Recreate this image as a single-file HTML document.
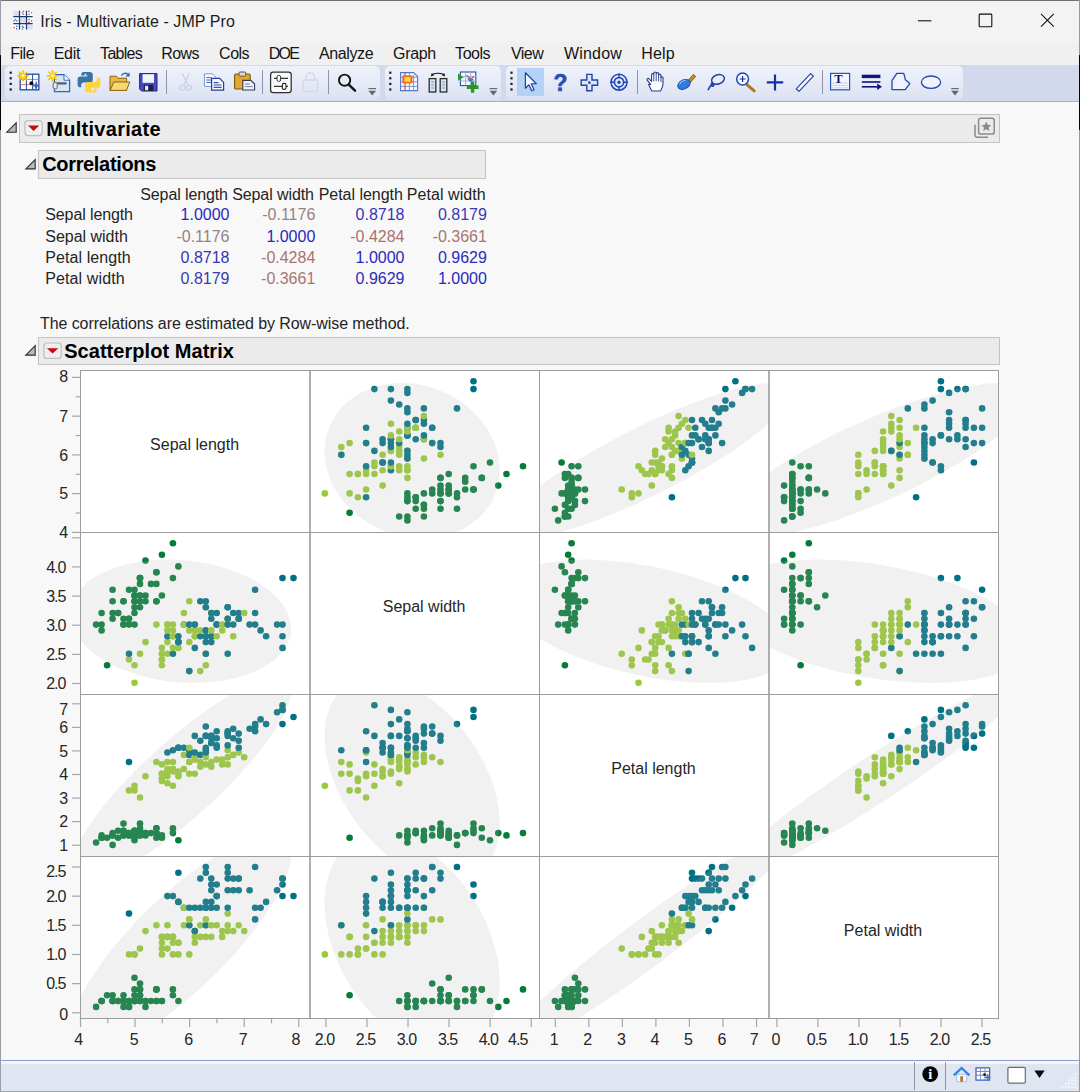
<!DOCTYPE html>
<html lang="en"><head><meta charset="utf-8"><title>Iris - Multivariate - JMP Pro</title>
<style>
html,body{margin:0;padding:0;overflow:hidden}
body{width:1080px;height:1092px;overflow:hidden;position:relative;background:#f8f8f8;font-family:"Liberation Sans", sans-serif;}
.t{position:absolute;white-space:nowrap}
.a{position:absolute}
.p0{fill:#077b3a}.p1{fill:#99cb36}.p2{fill:#007184}
.hdr{position:absolute;background:#ebebeb;border:1px solid #c3c3c3;box-sizing:border-box}

.tb{position:absolute;top:66px;height:34px;background:linear-gradient(#eff2fb,#e7ebf7 45%,#dce1f2);border-radius:5px}
.sep{position:absolute;top:70px;height:24px;width:1px;background:#8d93a8}

</style></head><body>
<div class="a" style="left:0;top:0;width:1080px;height:42px;background:#f3f3f3"></div>
<div class="a" style="left:0;top:42px;width:1080px;height:23px;background:#f0f0f0"></div>
<div class="a" style="left:0;top:65px;width:1080px;height:36px;background:#d3d9ed"></div>
<div class="a" style="left:0;top:100.6px;width:1080px;height:1.6px;background:#a3add4"></div>
<div class="tb" style="left:5px;width:375px"></div>
<div class="tb" style="left:385px;width:116px"></div>
<div class="tb" style="left:506px;width:457px"></div>
<div class="a" style="left:517px;top:68px;width:27px;height:28px;background:#b3d2f6"></div>
<div class="sep" style="left:166.3px"></div>
<div class="sep" style="left:262.3px"></div>
<div class="sep" style="left:328.4px"></div>
<div class="sep" style="left:637.3px"></div>
<div class="sep" style="left:822.4px"></div>
<div class="hdr" style="left:19px;top:114px;width:981px;height:29px"></div>
<div class="hdr" style="left:38px;top:150px;width:448px;height:29px"></div>
<div class="hdr" style="left:38px;top:337px;width:962px;height:28px"></div>
<div class="a" style="left:0;top:1059.6px;width:1080px;height:1.8px;background:#8f9bc8"></div>
<div class="a" style="left:0;top:1061.4px;width:1080px;height:2.6px;background:#f4f6fb"></div>
<div class="a" style="left:0;top:1064px;width:1080px;height:27px;background:#dfe5f1"></div>
<div class="a" style="left:0;top:1090.6px;width:1080px;height:1.4px;background:#a9a9a9"></div>
<div class="a" style="left:914.3px;top:1062px;width:1px;height:27.500px;background:#8e93a3"></div>
<div class="a" style="left:945.4px;top:1062px;width:1px;height:27.500px;background:#8e93a3"></div>
<div class="a" style="left:0;top:0;width:1080px;height:1.2px;background:#707070"></div>
<div class="a" style="left:0;top:0;width:1.2px;height:1092px;background:#9c9ca4"></div>
<div class="a" style="left:0;top:55px;width:1.2px;height:75px;background:#050505"></div>
<div class="a" style="left:1078.6px;top:0;width:1.4px;height:1092px;background:#98989f"></div>
<div class="a" style="left:1078.6px;top:55px;width:1.4px;height:75px;background:#050505"></div>
<div class="t" style="top:13.96px;font-size:16px;line-height:16px;color:#1d1d1d;left:40.24px;letter-spacing:0.071px;">Iris - Multivariate - JMP Pro</div>
<div class="t" style="top:46.16px;font-size:16px;line-height:16px;color:#141414;left:10.24px;letter-spacing:-0.475px;">File</div>
<div class="t" style="top:46.16px;font-size:16px;line-height:16px;color:#141414;left:53.70px;letter-spacing:-0.290px;">Edit</div>
<div class="t" style="top:46.16px;font-size:16px;line-height:16px;color:#141414;left:100.08px;letter-spacing:-0.702px;">Tables</div>
<div class="t" style="top:46.16px;font-size:16px;line-height:16px;color:#141414;left:161.28px;letter-spacing:-0.554px;">Rows</div>
<div class="t" style="top:46.16px;font-size:16px;line-height:16px;color:#141414;left:219.08px;letter-spacing:-0.494px;">Cols</div>
<div class="t" style="top:46.16px;font-size:16px;line-height:16px;color:#141414;left:268.70px;letter-spacing:-1.684px;">DOE</div>
<div class="t" style="top:46.16px;font-size:16px;line-height:16px;color:#141414;left:319.04px;letter-spacing:-0.400px;">Analyze</div>
<div class="t" style="top:46.16px;font-size:16px;line-height:16px;color:#141414;left:393.12px;letter-spacing:-0.350px;">Graph</div>
<div class="t" style="top:46.16px;font-size:16px;line-height:16px;color:#141414;left:455.12px;letter-spacing:-0.472px;">Tools</div>
<div class="t" style="top:46.16px;font-size:16px;line-height:16px;color:#141414;left:510.88px;letter-spacing:-0.528px;">View</div>
<div class="t" style="top:46.16px;font-size:16px;line-height:16px;color:#141414;left:563.92px;letter-spacing:0.196px;">Window</div>
<div class="t" style="top:46.16px;font-size:16px;line-height:16px;color:#141414;left:641.28px;letter-spacing:0.173px;">Help</div>
<div class="t" style="top:118.77px;font-size:20px;line-height:20px;color:#000;font-weight:700;left:46.24px;letter-spacing:0.287px;">Multivariate</div>
<div class="t" style="top:154.37px;font-size:20px;line-height:20px;color:#000;font-weight:700;left:42.20px;letter-spacing:-0.334px;">Correlations</div>
<div class="t" style="top:340.97px;font-size:20px;line-height:20px;color:#000;font-weight:700;left:64.20px;letter-spacing:0.046px;">Scatterplot Matrix</div>
<div class="t" style="top:186.56px;font-size:16px;line-height:16px;color:#242424;left:140.24px;letter-spacing:-0.107px;">Sepal length</div>
<div class="t" style="top:186.56px;font-size:16px;line-height:16px;color:#242424;left:232.20px;letter-spacing:-0.098px;">Sepal width</div>
<div class="t" style="top:186.56px;font-size:16px;line-height:16px;color:#242424;left:318.70px;letter-spacing:-0.031px;">Petal length</div>
<div class="t" style="top:186.56px;font-size:16px;line-height:16px;color:#242424;left:406.70px;letter-spacing:0.079px;">Petal width</div>
<div class="t" style="top:207.36px;font-size:16px;line-height:16px;color:#242424;left:45.24px;letter-spacing:-0.107px;">Sepal length</div>
<div class="t" style="top:228.61px;font-size:16px;line-height:16px;color:#242424;left:45.24px;letter-spacing:-0.014px;">Sepal width</div>
<div class="t" style="top:249.86px;font-size:16px;line-height:16px;color:#242424;left:45.24px;letter-spacing:0.080px;">Petal length</div>
<div class="t" style="top:271.11px;font-size:16px;line-height:16px;color:#242424;left:45.24px;letter-spacing:0.118px;">Petal width</div>
<div class="t" style="top:207.36px;font-size:16px;line-height:16px;color:#2828be;right:850.50px;">1.0000</div>
<div class="t" style="top:207.36px;font-size:16px;line-height:16px;color:#938482;right:764.70px;">-0.1176</div>
<div class="t" style="top:207.36px;font-size:16px;line-height:16px;color:#3535b7;right:675.50px;">0.8718</div>
<div class="t" style="top:207.36px;font-size:16px;line-height:16px;color:#3a3ab5;right:593.10px;">0.8179</div>
<div class="t" style="top:228.61px;font-size:16px;line-height:16px;color:#938482;right:850.50px;">-0.1176</div>
<div class="t" style="top:228.61px;font-size:16px;line-height:16px;color:#2828be;right:764.70px;">1.0000</div>
<div class="t" style="top:228.61px;font-size:16px;line-height:16px;color:#ab736e;right:675.50px;">-0.4284</div>
<div class="t" style="top:228.61px;font-size:16px;line-height:16px;color:#a67672;right:593.10px;">-0.3661</div>
<div class="t" style="top:249.86px;font-size:16px;line-height:16px;color:#3535b7;right:850.50px;">0.8718</div>
<div class="t" style="top:249.86px;font-size:16px;line-height:16px;color:#ab736e;right:764.70px;">-0.4284</div>
<div class="t" style="top:249.86px;font-size:16px;line-height:16px;color:#2828be;right:675.50px;">1.0000</div>
<div class="t" style="top:249.86px;font-size:16px;line-height:16px;color:#2c2cbc;right:593.10px;">0.9629</div>
<div class="t" style="top:271.11px;font-size:16px;line-height:16px;color:#3a3ab5;right:850.50px;">0.8179</div>
<div class="t" style="top:271.11px;font-size:16px;line-height:16px;color:#a67672;right:764.70px;">-0.3661</div>
<div class="t" style="top:271.11px;font-size:16px;line-height:16px;color:#2c2cbc;right:675.50px;">0.9629</div>
<div class="t" style="top:271.11px;font-size:16px;line-height:16px;color:#2828be;right:593.10px;">1.0000</div>
<div class="t" style="top:316.16px;font-size:16px;line-height:16px;color:#242424;left:39.96px;letter-spacing:-0.076px;">The correlations are estimated by Row-wise method.</div>
<svg width="1080" height="1092" viewBox="0 0 1080 1092" style="position:absolute;left:0;top:0" font-family='"Liberation Sans", sans-serif' font-size="16">
<rect x="80.5" y="370.5" width="918.0" height="648.0" fill="#fff"/>
<defs><clipPath id="c00"><rect x="80.5" y="370.5" width="229.5" height="162.0"/></clipPath><clipPath id="c01"><rect x="310.0" y="370.5" width="229.5" height="162.0"/></clipPath><clipPath id="c02"><rect x="539.5" y="370.5" width="229.5" height="162.0"/></clipPath><clipPath id="c03"><rect x="769.0" y="370.5" width="229.5" height="162.0"/></clipPath><clipPath id="c10"><rect x="80.5" y="532.5" width="229.5" height="162.0"/></clipPath><clipPath id="c11"><rect x="310.0" y="532.5" width="229.5" height="162.0"/></clipPath><clipPath id="c12"><rect x="539.5" y="532.5" width="229.5" height="162.0"/></clipPath><clipPath id="c13"><rect x="769.0" y="532.5" width="229.5" height="162.0"/></clipPath><clipPath id="c20"><rect x="80.5" y="694.5" width="229.5" height="162.0"/></clipPath><clipPath id="c21"><rect x="310.0" y="694.5" width="229.5" height="162.0"/></clipPath><clipPath id="c22"><rect x="539.5" y="694.5" width="229.5" height="162.0"/></clipPath><clipPath id="c23"><rect x="769.0" y="694.5" width="229.5" height="162.0"/></clipPath><clipPath id="c30"><rect x="80.5" y="856.5" width="229.5" height="162.0"/></clipPath><clipPath id="c31"><rect x="310.0" y="856.5" width="229.5" height="162.0"/></clipPath><clipPath id="c32"><rect x="539.5" y="856.5" width="229.5" height="162.0"/></clipPath><clipPath id="c33"><rect x="769.0" y="856.5" width="229.5" height="162.0"/></clipPath></defs>
<g clip-path="url(#c01)"><circle class="p1" cx="324.8" cy="493.4" r="3.3"/><circle class="p1" cx="341.3" cy="454.7" r="3.3"/><circle class="p2" cx="341.3" cy="454.7" r="3.3"/><circle class="p1" cx="341.3" cy="447.0" r="3.3"/><circle class="p0" cx="349.6" cy="512.7" r="3.3"/><circle class="p1" cx="349.6" cy="493.4" r="3.3"/><circle class="p1" cx="349.6" cy="474.0" r="3.3"/><circle class="p1" cx="349.6" cy="443.1" r="3.3"/><circle class="p1" cx="357.9" cy="497.2" r="3.3"/><circle class="p1" cx="357.9" cy="474.0" r="3.3"/><circle class="p1" cx="357.9" cy="474.0" r="3.3"/><circle class="p2" cx="366.1" cy="497.2" r="3.3"/><circle class="p1" cx="366.1" cy="489.5" r="3.3"/><circle class="p1" cx="366.1" cy="474.0" r="3.3"/><circle class="p1" cx="366.1" cy="470.2" r="3.3"/><circle class="p2" cx="366.1" cy="466.3" r="3.3"/><circle class="p1" cx="366.1" cy="443.1" r="3.3"/><circle class="p2" cx="366.1" cy="443.1" r="3.3"/><circle class="p2" cx="366.1" cy="427.7" r="3.3"/><circle class="p1" cx="374.4" cy="474.0" r="3.3"/><circle class="p1" cx="374.4" cy="466.3" r="3.3"/><circle class="p1" cx="374.4" cy="462.5" r="3.3"/><circle class="p2" cx="374.4" cy="450.9" r="3.3"/><circle class="p2" cx="374.4" cy="389.1" r="3.3"/><circle class="p1" cx="382.6" cy="485.6" r="3.3"/><circle class="p1" cx="382.6" cy="470.2" r="3.3"/><circle class="p1" cx="382.6" cy="462.5" r="3.3"/><circle class="p1" cx="382.6" cy="462.5" r="3.3"/><circle class="p2" cx="382.6" cy="462.5" r="3.3"/><circle class="p2" cx="382.6" cy="462.5" r="3.3"/><circle class="p1" cx="382.6" cy="454.7" r="3.3"/><circle class="p2" cx="382.6" cy="443.1" r="3.3"/><circle class="p2" cx="382.6" cy="439.3" r="3.3"/><circle class="p2" cx="390.9" cy="470.2" r="3.3"/><circle class="p1" cx="390.9" cy="466.3" r="3.3"/><circle class="p1" cx="390.9" cy="466.3" r="3.3"/><circle class="p2" cx="390.9" cy="462.5" r="3.3"/><circle class="p1" cx="390.9" cy="450.9" r="3.3"/><circle class="p1" cx="390.9" cy="450.9" r="3.3"/><circle class="p2" cx="390.9" cy="447.0" r="3.3"/><circle class="p2" cx="390.9" cy="443.1" r="3.3"/><circle class="p2" cx="390.9" cy="439.3" r="3.3"/><circle class="p2" cx="390.9" cy="439.3" r="3.3"/><circle class="p1" cx="390.9" cy="435.4" r="3.3"/><circle class="p1" cx="390.9" cy="423.8" r="3.3"/><circle class="p2" cx="390.9" cy="400.6" r="3.3"/><circle class="p2" cx="390.9" cy="389.1" r="3.3"/><circle class="p0" cx="399.2" cy="516.5" r="3.3"/><circle class="p1" cx="399.2" cy="470.2" r="3.3"/><circle class="p1" cx="399.2" cy="466.3" r="3.3"/><circle class="p1" cx="399.2" cy="454.7" r="3.3"/><circle class="p1" cx="399.2" cy="450.9" r="3.3"/><circle class="p1" cx="399.2" cy="447.0" r="3.3"/><circle class="p2" cx="399.2" cy="443.1" r="3.3"/><circle class="p1" cx="399.2" cy="439.3" r="3.3"/><circle class="p1" cx="399.2" cy="431.5" r="3.3"/><circle class="p2" cx="399.2" cy="404.5" r="3.3"/><circle class="p0" cx="407.4" cy="520.4" r="3.3"/><circle class="p0" cx="407.4" cy="516.5" r="3.3"/><circle class="p0" cx="407.4" cy="501.1" r="3.3"/><circle class="p0" cx="407.4" cy="501.1" r="3.3"/><circle class="p0" cx="407.4" cy="497.2" r="3.3"/><circle class="p0" cx="407.4" cy="493.4" r="3.3"/><circle class="p1" cx="407.4" cy="477.9" r="3.3"/><circle class="p1" cx="407.4" cy="470.2" r="3.3"/><circle class="p1" cx="407.4" cy="470.2" r="3.3"/><circle class="p1" cx="407.4" cy="466.3" r="3.3"/><circle class="p1" cx="407.4" cy="458.6" r="3.3"/><circle class="p2" cx="407.4" cy="458.6" r="3.3"/><circle class="p2" cx="407.4" cy="454.7" r="3.3"/><circle class="p1" cx="407.4" cy="450.9" r="3.3"/><circle class="p2" cx="407.4" cy="450.9" r="3.3"/><circle class="p2" cx="407.4" cy="435.4" r="3.3"/><circle class="p2" cx="407.4" cy="435.4" r="3.3"/><circle class="p2" cx="407.4" cy="435.4" r="3.3"/><circle class="p1" cx="407.4" cy="431.5" r="3.3"/><circle class="p2" cx="407.4" cy="427.7" r="3.3"/><circle class="p1" cx="407.4" cy="427.7" r="3.3"/><circle class="p2" cx="407.4" cy="423.8" r="3.3"/><circle class="p2" cx="407.4" cy="412.2" r="3.3"/><circle class="p2" cx="407.4" cy="408.4" r="3.3"/><circle class="p2" cx="407.4" cy="392.9" r="3.3"/><circle class="p2" cx="407.4" cy="389.1" r="3.3"/><circle class="p0" cx="415.7" cy="508.8" r="3.3"/><circle class="p0" cx="415.7" cy="501.1" r="3.3"/><circle class="p0" cx="415.7" cy="497.2" r="3.3"/><circle class="p0" cx="415.7" cy="497.2" r="3.3"/><circle class="p2" cx="415.7" cy="439.3" r="3.3"/><circle class="p2" cx="415.7" cy="427.7" r="3.3"/><circle class="p1" cx="415.7" cy="427.7" r="3.3"/><circle class="p1" cx="415.7" cy="427.7" r="3.3"/><circle class="p1" cx="415.7" cy="420.0" r="3.3"/><circle class="p2" cx="415.7" cy="420.0" r="3.3"/><circle class="p2" cx="415.7" cy="420.0" r="3.3"/><circle class="p0" cx="423.9" cy="516.5" r="3.3"/><circle class="p0" cx="423.9" cy="508.8" r="3.3"/><circle class="p0" cx="423.9" cy="504.9" r="3.3"/><circle class="p0" cx="423.9" cy="504.9" r="3.3"/><circle class="p0" cx="423.9" cy="493.4" r="3.3"/><circle class="p1" cx="423.9" cy="458.6" r="3.3"/><circle class="p2" cx="423.9" cy="439.3" r="3.3"/><circle class="p1" cx="423.9" cy="439.3" r="3.3"/><circle class="p2" cx="423.9" cy="435.4" r="3.3"/><circle class="p2" cx="423.9" cy="423.8" r="3.3"/><circle class="p2" cx="423.9" cy="420.0" r="3.3"/><circle class="p1" cx="423.9" cy="416.1" r="3.3"/><circle class="p2" cx="423.9" cy="408.4" r="3.3"/><circle class="p0" cx="432.2" cy="493.4" r="3.3"/><circle class="p0" cx="432.2" cy="489.5" r="3.3"/><circle class="p1" cx="432.2" cy="443.1" r="3.3"/><circle class="p2" cx="432.2" cy="443.1" r="3.3"/><circle class="p2" cx="432.2" cy="427.7" r="3.3"/><circle class="p2" cx="432.2" cy="427.7" r="3.3"/><circle class="p0" cx="440.5" cy="508.8" r="3.3"/><circle class="p0" cx="440.5" cy="501.1" r="3.3"/><circle class="p0" cx="440.5" cy="501.1" r="3.3"/><circle class="p0" cx="440.5" cy="493.4" r="3.3"/><circle class="p0" cx="440.5" cy="493.4" r="3.3"/><circle class="p0" cx="440.5" cy="489.5" r="3.3"/><circle class="p0" cx="440.5" cy="485.6" r="3.3"/><circle class="p0" cx="440.5" cy="477.9" r="3.3"/><circle class="p0" cx="440.5" cy="477.9" r="3.3"/><circle class="p1" cx="440.5" cy="454.7" r="3.3"/><circle class="p2" cx="440.5" cy="447.0" r="3.3"/><circle class="p2" cx="440.5" cy="443.1" r="3.3"/><circle class="p0" cx="448.7" cy="493.4" r="3.3"/><circle class="p0" cx="448.7" cy="493.4" r="3.3"/><circle class="p0" cx="448.7" cy="489.5" r="3.3"/><circle class="p0" cx="448.7" cy="489.5" r="3.3"/><circle class="p0" cx="448.7" cy="485.6" r="3.3"/><circle class="p0" cx="448.7" cy="474.0" r="3.3"/><circle class="p0" cx="457.0" cy="508.8" r="3.3"/><circle class="p0" cx="457.0" cy="497.2" r="3.3"/><circle class="p0" cx="457.0" cy="493.4" r="3.3"/><circle class="p2" cx="457.0" cy="408.4" r="3.3"/><circle class="p0" cx="465.2" cy="489.5" r="3.3"/><circle class="p0" cx="465.2" cy="481.8" r="3.3"/><circle class="p0" cx="465.2" cy="477.9" r="3.3"/><circle class="p0" cx="473.5" cy="489.5" r="3.3"/><circle class="p0" cx="473.5" cy="489.5" r="3.3"/><circle class="p0" cx="473.5" cy="489.5" r="3.3"/><circle class="p0" cx="473.5" cy="466.3" r="3.3"/><circle class="p2" cx="473.5" cy="389.1" r="3.3"/><circle class="p2" cx="473.5" cy="381.3" r="3.3"/><circle class="p0" cx="481.8" cy="477.9" r="3.3"/><circle class="p0" cx="481.8" cy="477.9" r="3.3"/><circle class="p0" cx="490.0" cy="462.5" r="3.3"/><circle class="p0" cx="498.3" cy="485.6" r="3.3"/><circle class="p0" cx="506.5" cy="474.0" r="3.3"/><circle class="p0" cx="523.0" cy="466.3" r="3.3"/><path d="M325.8,464.2L325.2,460.1L324.8,456.1L324.6,452.0L324.7,448.0L325.1,444.0L325.7,440.0L326.5,436.1L327.5,432.3L328.8,428.6L330.3,424.9L332.0,421.4L334.0,417.9L336.2,414.6L338.5,411.4L341.1,408.3L343.9,405.4L346.8,402.6L350.0,400.0L353.3,397.5L356.8,395.2L360.4,393.1L364.1,391.2L368.0,389.5L372.0,388.0L376.2,386.6L380.4,385.5L384.7,384.6L389.1,383.9L393.5,383.4L398.0,383.1L402.6,383.0L407.1,383.2L411.7,383.5L416.3,384.1L420.9,384.9L425.4,385.8L429.9,387.0L434.4,388.4L438.8,390.0L443.1,391.8L447.3,393.8L451.5,395.9L455.5,398.3L459.4,400.8L463.2,403.4L466.9,406.3L470.4,409.2L473.7,412.3L476.9,415.6L479.9,419.0L482.7,422.5L485.3,426.0L487.7,429.7L489.9,433.5L491.9,437.4L493.7,441.3L495.2,445.2L496.6,449.2L497.7,453.3L498.5,457.3L499.1,461.4L499.5,465.5L499.7,469.5L499.6,473.6L499.2,477.6L498.6,481.5L497.8,485.4L496.8,489.2L495.5,493.0L494.0,496.6L492.3,500.2L490.3,503.7L488.1,507.0L485.8,510.2L483.2,513.3L480.4,516.2L477.5,519.0L474.3,521.6L471.0,524.1L467.6,526.3L463.9,528.4L460.2,530.3L456.3,532.1L452.3,533.6L448.1,534.9L443.9,536.0L439.6,537.0L435.2,537.7L430.8,538.2L426.3,538.5L421.7,538.5L417.2,538.4L412.6,538.0L408.0,537.5L403.4,536.7L398.9,535.7L394.4,534.5L389.9,533.1L385.5,531.5L381.2,529.8L377.0,527.8L372.8,525.6L368.8,523.3L364.9,520.8L361.1,518.1L357.4,515.3L353.9,512.3L350.6,509.2L347.4,506.0L344.4,502.6L341.6,499.1L339.0,495.5L336.6,491.8L334.4,488.0L332.4,484.2L330.6,480.3L329.1,476.3L327.7,472.3L326.7,468.3Z" fill="rgba(178,178,178,0.19)"/></g>
<g clip-path="url(#c02)"><circle class="p0" cx="554.9" cy="508.8" r="3.3"/><circle class="p0" cx="558.2" cy="520.4" r="3.3"/><circle class="p0" cx="561.6" cy="493.4" r="3.3"/><circle class="p0" cx="561.6" cy="462.5" r="3.3"/><circle class="p0" cx="564.9" cy="516.5" r="3.3"/><circle class="p0" cx="564.9" cy="516.5" r="3.3"/><circle class="p0" cx="564.9" cy="512.7" r="3.3"/><circle class="p0" cx="564.9" cy="504.9" r="3.3"/><circle class="p0" cx="564.9" cy="493.4" r="3.3"/><circle class="p0" cx="564.9" cy="477.9" r="3.3"/><circle class="p0" cx="564.9" cy="474.0" r="3.3"/><circle class="p0" cx="568.2" cy="516.5" r="3.3"/><circle class="p0" cx="568.2" cy="508.8" r="3.3"/><circle class="p0" cx="568.2" cy="508.8" r="3.3"/><circle class="p0" cx="568.2" cy="501.1" r="3.3"/><circle class="p0" cx="568.2" cy="501.1" r="3.3"/><circle class="p0" cx="568.2" cy="497.2" r="3.3"/><circle class="p0" cx="568.2" cy="497.2" r="3.3"/><circle class="p0" cx="568.2" cy="493.4" r="3.3"/><circle class="p0" cx="568.2" cy="493.4" r="3.3"/><circle class="p0" cx="568.2" cy="489.5" r="3.3"/><circle class="p0" cx="568.2" cy="489.5" r="3.3"/><circle class="p0" cx="568.2" cy="485.6" r="3.3"/><circle class="p0" cx="568.2" cy="474.0" r="3.3"/><circle class="p0" cx="571.6" cy="508.8" r="3.3"/><circle class="p0" cx="571.6" cy="497.2" r="3.3"/><circle class="p0" cx="571.6" cy="497.2" r="3.3"/><circle class="p0" cx="571.6" cy="493.4" r="3.3"/><circle class="p0" cx="571.6" cy="489.5" r="3.3"/><circle class="p0" cx="571.6" cy="489.5" r="3.3"/><circle class="p0" cx="571.6" cy="489.5" r="3.3"/><circle class="p0" cx="571.6" cy="485.6" r="3.3"/><circle class="p0" cx="571.6" cy="485.6" r="3.3"/><circle class="p0" cx="571.6" cy="481.8" r="3.3"/><circle class="p0" cx="571.6" cy="477.9" r="3.3"/><circle class="p0" cx="571.6" cy="477.9" r="3.3"/><circle class="p0" cx="571.6" cy="466.3" r="3.3"/><circle class="p0" cx="574.9" cy="504.9" r="3.3"/><circle class="p0" cx="574.9" cy="501.1" r="3.3"/><circle class="p0" cx="574.9" cy="501.1" r="3.3"/><circle class="p0" cx="574.9" cy="493.4" r="3.3"/><circle class="p0" cx="574.9" cy="493.4" r="3.3"/><circle class="p0" cx="574.9" cy="493.4" r="3.3"/><circle class="p0" cx="574.9" cy="489.5" r="3.3"/><circle class="p0" cx="578.3" cy="489.5" r="3.3"/><circle class="p0" cx="578.3" cy="477.9" r="3.3"/><circle class="p0" cx="578.3" cy="477.9" r="3.3"/><circle class="p0" cx="578.3" cy="466.3" r="3.3"/><circle class="p0" cx="585.0" cy="501.1" r="3.3"/><circle class="p0" cx="585.0" cy="489.5" r="3.3"/><circle class="p1" cx="621.7" cy="489.5" r="3.3"/><circle class="p1" cx="631.8" cy="497.2" r="3.3"/><circle class="p1" cx="631.8" cy="493.4" r="3.3"/><circle class="p1" cx="638.5" cy="493.4" r="3.3"/><circle class="p1" cx="638.5" cy="466.3" r="3.3"/><circle class="p1" cx="641.8" cy="470.2" r="3.3"/><circle class="p1" cx="645.1" cy="474.0" r="3.3"/><circle class="p1" cx="648.5" cy="474.0" r="3.3"/><circle class="p1" cx="651.8" cy="485.6" r="3.3"/><circle class="p1" cx="651.8" cy="470.2" r="3.3"/><circle class="p1" cx="651.8" cy="462.5" r="3.3"/><circle class="p1" cx="655.2" cy="474.0" r="3.3"/><circle class="p1" cx="655.2" cy="474.0" r="3.3"/><circle class="p1" cx="655.2" cy="462.5" r="3.3"/><circle class="p1" cx="655.2" cy="454.7" r="3.3"/><circle class="p1" cx="655.2" cy="450.9" r="3.3"/><circle class="p1" cx="658.5" cy="470.2" r="3.3"/><circle class="p1" cx="658.5" cy="466.3" r="3.3"/><circle class="p1" cx="658.5" cy="462.5" r="3.3"/><circle class="p1" cx="661.9" cy="470.2" r="3.3"/><circle class="p1" cx="661.9" cy="466.3" r="3.3"/><circle class="p1" cx="661.9" cy="466.3" r="3.3"/><circle class="p1" cx="661.9" cy="458.6" r="3.3"/><circle class="p1" cx="665.2" cy="447.0" r="3.3"/><circle class="p1" cx="665.2" cy="439.3" r="3.3"/><circle class="p1" cx="668.6" cy="474.0" r="3.3"/><circle class="p1" cx="668.6" cy="443.1" r="3.3"/><circle class="p1" cx="668.6" cy="431.5" r="3.3"/><circle class="p1" cx="668.6" cy="427.7" r="3.3"/><circle class="p2" cx="671.9" cy="497.2" r="3.3"/><circle class="p1" cx="671.9" cy="477.9" r="3.3"/><circle class="p1" cx="671.9" cy="470.2" r="3.3"/><circle class="p1" cx="671.9" cy="466.3" r="3.3"/><circle class="p1" cx="671.9" cy="454.7" r="3.3"/><circle class="p1" cx="671.9" cy="454.7" r="3.3"/><circle class="p1" cx="671.9" cy="447.0" r="3.3"/><circle class="p1" cx="671.9" cy="439.3" r="3.3"/><circle class="p1" cx="675.2" cy="450.9" r="3.3"/><circle class="p1" cx="675.2" cy="435.4" r="3.3"/><circle class="p1" cx="675.2" cy="431.5" r="3.3"/><circle class="p1" cx="678.6" cy="450.9" r="3.3"/><circle class="p1" cx="678.6" cy="450.9" r="3.3"/><circle class="p1" cx="678.6" cy="443.1" r="3.3"/><circle class="p1" cx="678.6" cy="427.7" r="3.3"/><circle class="p1" cx="678.6" cy="416.1" r="3.3"/><circle class="p1" cx="681.9" cy="458.6" r="3.3"/><circle class="p2" cx="681.9" cy="454.7" r="3.3"/><circle class="p2" cx="681.9" cy="447.0" r="3.3"/><circle class="p1" cx="681.9" cy="423.8" r="3.3"/><circle class="p2" cx="685.3" cy="470.2" r="3.3"/><circle class="p2" cx="685.3" cy="450.9" r="3.3"/><circle class="p2" cx="685.3" cy="443.1" r="3.3"/><circle class="p1" cx="685.3" cy="443.1" r="3.3"/><circle class="p1" cx="685.3" cy="420.0" r="3.3"/><circle class="p2" cx="688.6" cy="466.3" r="3.3"/><circle class="p2" cx="688.6" cy="454.7" r="3.3"/><circle class="p2" cx="688.6" cy="443.1" r="3.3"/><circle class="p1" cx="688.6" cy="427.7" r="3.3"/><circle class="p2" cx="692.0" cy="462.5" r="3.3"/><circle class="p2" cx="692.0" cy="462.5" r="3.3"/><circle class="p2" cx="692.0" cy="462.5" r="3.3"/><circle class="p2" cx="692.0" cy="458.6" r="3.3"/><circle class="p1" cx="692.0" cy="454.7" r="3.3"/><circle class="p2" cx="692.0" cy="443.1" r="3.3"/><circle class="p2" cx="692.0" cy="435.4" r="3.3"/><circle class="p2" cx="692.0" cy="420.0" r="3.3"/><circle class="p2" cx="695.3" cy="435.4" r="3.3"/><circle class="p2" cx="695.3" cy="427.7" r="3.3"/><circle class="p2" cx="698.6" cy="439.3" r="3.3"/><circle class="p2" cx="698.6" cy="439.3" r="3.3"/><circle class="p2" cx="702.0" cy="447.0" r="3.3"/><circle class="p2" cx="702.0" cy="420.0" r="3.3"/><circle class="p2" cx="705.3" cy="439.3" r="3.3"/><circle class="p2" cx="705.3" cy="435.4" r="3.3"/><circle class="p2" cx="705.3" cy="423.8" r="3.3"/><circle class="p2" cx="708.7" cy="450.9" r="3.3"/><circle class="p2" cx="708.7" cy="443.1" r="3.3"/><circle class="p2" cx="708.7" cy="443.1" r="3.3"/><circle class="p2" cx="708.7" cy="439.3" r="3.3"/><circle class="p2" cx="708.7" cy="439.3" r="3.3"/><circle class="p2" cx="708.7" cy="427.7" r="3.3"/><circle class="p2" cx="712.0" cy="427.7" r="3.3"/><circle class="p2" cx="712.0" cy="427.7" r="3.3"/><circle class="p2" cx="712.0" cy="420.0" r="3.3"/><circle class="p2" cx="715.4" cy="435.4" r="3.3"/><circle class="p2" cx="715.4" cy="427.7" r="3.3"/><circle class="p2" cx="715.4" cy="408.4" r="3.3"/><circle class="p2" cx="718.7" cy="423.8" r="3.3"/><circle class="p2" cx="718.7" cy="412.2" r="3.3"/><circle class="p2" cx="722.1" cy="443.1" r="3.3"/><circle class="p2" cx="722.1" cy="408.4" r="3.3"/><circle class="p2" cx="725.4" cy="408.4" r="3.3"/><circle class="p2" cx="725.4" cy="400.6" r="3.3"/><circle class="p2" cx="725.4" cy="389.1" r="3.3"/><circle class="p2" cx="732.1" cy="404.5" r="3.3"/><circle class="p2" cx="735.4" cy="381.3" r="3.3"/><circle class="p2" cx="742.1" cy="392.9" r="3.3"/><circle class="p2" cx="745.5" cy="389.1" r="3.3"/><circle class="p2" cx="745.5" cy="389.1" r="3.3"/><circle class="p2" cx="752.1" cy="389.1" r="3.3"/><path d="M659.1,493.1L651.6,496.7L644.1,500.3L636.5,503.7L629.1,507.1L621.7,510.3L614.3,513.4L607.0,516.3L599.9,519.1L592.8,521.7L586.0,524.1L579.3,526.4L572.7,528.5L566.4,530.4L560.3,532.1L554.5,533.6L548.9,534.9L543.5,536.1L538.5,537.0L533.7,537.7L529.3,538.2L525.1,538.5L521.3,538.5L517.9,538.4L514.8,538.0L512.1,537.5L509.7,536.7L507.8,535.7L506.2,534.5L504.9,533.1L504.1,531.5L503.7,529.7L503.6,527.7L504.0,525.6L504.8,523.2L505.9,520.7L507.4,518.1L509.3,515.2L511.6,512.2L514.3,509.1L517.3,505.9L520.7,502.5L524.4,499.0L528.4,495.4L532.8,491.7L537.5,487.9L542.5,484.1L547.8,480.2L553.4,476.2L559.2,472.2L565.2,468.2L571.5,464.1L578.0,460.0L584.7,456.0L591.5,451.9L598.5,447.9L605.7,443.9L612.9,439.9L620.2,436.0L627.7,432.2L635.1,428.5L642.6,424.8L650.1,421.3L657.6,417.8L665.1,414.5L672.5,411.3L679.9,408.2L687.1,405.3L694.3,402.5L701.3,399.9L708.2,397.4L714.9,395.2L721.4,393.1L727.8,391.2L733.9,389.4L739.7,387.9L745.3,386.6L750.7,385.5L755.7,384.6L760.5,383.9L764.9,383.4L769.0,383.1L772.8,383.0L776.3,383.2L779.4,383.5L782.1,384.1L784.4,384.9L786.4,385.9L788.0,387.1L789.2,388.5L790.1,390.1L790.5,391.8L790.5,393.8L790.2,396.0L789.4,398.3L788.3,400.8L786.8,403.5L784.9,406.3L782.6,409.3L779.9,412.4L776.9,415.7L773.5,419.1L769.8,422.6L765.7,426.1L761.3,429.8L756.7,433.6L751.7,437.5L746.4,441.4L740.8,445.3L735.0,449.4L728.9,453.4L722.7,457.5L716.2,461.5L709.5,465.6L702.7,469.6L695.7,473.7L688.5,477.7L681.3,481.6L673.9,485.5L666.5,489.3Z" fill="rgba(178,178,178,0.19)"/></g>
<g clip-path="url(#c03)"><circle class="p0" cx="784.1" cy="520.4" r="3.3"/><circle class="p0" cx="784.1" cy="501.1" r="3.3"/><circle class="p0" cx="784.1" cy="497.2" r="3.3"/><circle class="p0" cx="784.1" cy="497.2" r="3.3"/><circle class="p0" cx="784.1" cy="485.6" r="3.3"/><circle class="p0" cx="792.3" cy="516.5" r="3.3"/><circle class="p0" cx="792.3" cy="516.5" r="3.3"/><circle class="p0" cx="792.3" cy="516.5" r="3.3"/><circle class="p0" cx="792.3" cy="508.8" r="3.3"/><circle class="p0" cx="792.3" cy="508.8" r="3.3"/><circle class="p0" cx="792.3" cy="508.8" r="3.3"/><circle class="p0" cx="792.3" cy="504.9" r="3.3"/><circle class="p0" cx="792.3" cy="504.9" r="3.3"/><circle class="p0" cx="792.3" cy="501.1" r="3.3"/><circle class="p0" cx="792.3" cy="501.1" r="3.3"/><circle class="p0" cx="792.3" cy="501.1" r="3.3"/><circle class="p0" cx="792.3" cy="497.2" r="3.3"/><circle class="p0" cx="792.3" cy="497.2" r="3.3"/><circle class="p0" cx="792.3" cy="493.4" r="3.3"/><circle class="p0" cx="792.3" cy="493.4" r="3.3"/><circle class="p0" cx="792.3" cy="493.4" r="3.3"/><circle class="p0" cx="792.3" cy="493.4" r="3.3"/><circle class="p0" cx="792.3" cy="493.4" r="3.3"/><circle class="p0" cx="792.3" cy="489.5" r="3.3"/><circle class="p0" cx="792.3" cy="489.5" r="3.3"/><circle class="p0" cx="792.3" cy="489.5" r="3.3"/><circle class="p0" cx="792.3" cy="485.6" r="3.3"/><circle class="p0" cx="792.3" cy="485.6" r="3.3"/><circle class="p0" cx="792.3" cy="481.8" r="3.3"/><circle class="p0" cx="792.3" cy="477.9" r="3.3"/><circle class="p0" cx="792.3" cy="477.9" r="3.3"/><circle class="p0" cx="792.3" cy="474.0" r="3.3"/><circle class="p0" cx="792.3" cy="474.0" r="3.3"/><circle class="p0" cx="792.3" cy="462.5" r="3.3"/><circle class="p0" cx="800.6" cy="512.7" r="3.3"/><circle class="p0" cx="800.6" cy="508.8" r="3.3"/><circle class="p0" cx="800.6" cy="501.1" r="3.3"/><circle class="p0" cx="800.6" cy="493.4" r="3.3"/><circle class="p0" cx="800.6" cy="489.5" r="3.3"/><circle class="p0" cx="800.6" cy="489.5" r="3.3"/><circle class="p0" cx="800.6" cy="466.3" r="3.3"/><circle class="p0" cx="808.8" cy="493.4" r="3.3"/><circle class="p0" cx="808.8" cy="489.5" r="3.3"/><circle class="p0" cx="808.8" cy="489.5" r="3.3"/><circle class="p0" cx="808.8" cy="477.9" r="3.3"/><circle class="p0" cx="808.8" cy="477.9" r="3.3"/><circle class="p0" cx="808.8" cy="477.9" r="3.3"/><circle class="p0" cx="808.8" cy="466.3" r="3.3"/><circle class="p0" cx="817.1" cy="489.5" r="3.3"/><circle class="p0" cx="825.3" cy="493.4" r="3.3"/><circle class="p1" cx="858.3" cy="497.2" r="3.3"/><circle class="p1" cx="858.3" cy="493.4" r="3.3"/><circle class="p1" cx="858.3" cy="493.4" r="3.3"/><circle class="p1" cx="858.3" cy="474.0" r="3.3"/><circle class="p1" cx="858.3" cy="466.3" r="3.3"/><circle class="p1" cx="858.3" cy="462.5" r="3.3"/><circle class="p1" cx="858.3" cy="454.7" r="3.3"/><circle class="p1" cx="866.6" cy="489.5" r="3.3"/><circle class="p1" cx="866.6" cy="474.0" r="3.3"/><circle class="p1" cx="866.6" cy="470.2" r="3.3"/><circle class="p1" cx="874.8" cy="474.0" r="3.3"/><circle class="p1" cx="874.8" cy="466.3" r="3.3"/><circle class="p1" cx="874.8" cy="462.5" r="3.3"/><circle class="p1" cx="874.8" cy="462.5" r="3.3"/><circle class="p1" cx="874.8" cy="450.9" r="3.3"/><circle class="p1" cx="883.1" cy="474.0" r="3.3"/><circle class="p1" cx="883.1" cy="474.0" r="3.3"/><circle class="p1" cx="883.1" cy="470.2" r="3.3"/><circle class="p1" cx="883.1" cy="470.2" r="3.3"/><circle class="p1" cx="883.1" cy="470.2" r="3.3"/><circle class="p1" cx="883.1" cy="466.3" r="3.3"/><circle class="p1" cx="883.1" cy="466.3" r="3.3"/><circle class="p1" cx="883.1" cy="466.3" r="3.3"/><circle class="p1" cx="883.1" cy="450.9" r="3.3"/><circle class="p1" cx="883.1" cy="447.0" r="3.3"/><circle class="p1" cx="883.1" cy="443.1" r="3.3"/><circle class="p1" cx="883.1" cy="439.3" r="3.3"/><circle class="p1" cx="883.1" cy="431.5" r="3.3"/><circle class="p1" cx="891.3" cy="485.6" r="3.3"/><circle class="p1" cx="891.3" cy="450.9" r="3.3"/><circle class="p1" cx="891.3" cy="450.9" r="3.3"/><circle class="p2" cx="891.3" cy="450.9" r="3.3"/><circle class="p1" cx="891.3" cy="431.5" r="3.3"/><circle class="p1" cx="891.3" cy="427.7" r="3.3"/><circle class="p1" cx="891.3" cy="423.8" r="3.3"/><circle class="p1" cx="891.3" cy="416.1" r="3.3"/><circle class="p1" cx="899.6" cy="477.9" r="3.3"/><circle class="p1" cx="899.6" cy="470.2" r="3.3"/><circle class="p1" cx="899.6" cy="458.6" r="3.3"/><circle class="p1" cx="899.6" cy="454.7" r="3.3"/><circle class="p2" cx="899.6" cy="454.7" r="3.3"/><circle class="p1" cx="899.6" cy="447.0" r="3.3"/><circle class="p1" cx="899.6" cy="443.1" r="3.3"/><circle class="p2" cx="899.6" cy="443.1" r="3.3"/><circle class="p1" cx="899.6" cy="439.3" r="3.3"/><circle class="p1" cx="899.6" cy="435.4" r="3.3"/><circle class="p1" cx="899.6" cy="427.7" r="3.3"/><circle class="p1" cx="899.6" cy="420.0" r="3.3"/><circle class="p1" cx="907.8" cy="454.7" r="3.3"/><circle class="p1" cx="907.8" cy="454.7" r="3.3"/><circle class="p1" cx="907.8" cy="443.1" r="3.3"/><circle class="p2" cx="907.8" cy="408.4" r="3.3"/><circle class="p2" cx="916.1" cy="497.2" r="3.3"/><circle class="p1" cx="916.1" cy="427.7" r="3.3"/><circle class="p1" cx="924.4" cy="458.6" r="3.3"/><circle class="p2" cx="924.4" cy="458.6" r="3.3"/><circle class="p2" cx="924.4" cy="454.7" r="3.3"/><circle class="p2" cx="924.4" cy="450.9" r="3.3"/><circle class="p2" cx="924.4" cy="447.0" r="3.3"/><circle class="p2" cx="924.4" cy="443.1" r="3.3"/><circle class="p2" cx="924.4" cy="443.1" r="3.3"/><circle class="p2" cx="924.4" cy="439.3" r="3.3"/><circle class="p2" cx="924.4" cy="435.4" r="3.3"/><circle class="p2" cx="924.4" cy="427.7" r="3.3"/><circle class="p2" cx="924.4" cy="408.4" r="3.3"/><circle class="p2" cx="924.4" cy="404.5" r="3.3"/><circle class="p2" cx="932.6" cy="462.5" r="3.3"/><circle class="p2" cx="932.6" cy="462.5" r="3.3"/><circle class="p2" cx="932.6" cy="443.1" r="3.3"/><circle class="p2" cx="932.6" cy="439.3" r="3.3"/><circle class="p2" cx="932.6" cy="400.6" r="3.3"/><circle class="p2" cx="940.9" cy="470.2" r="3.3"/><circle class="p2" cx="940.9" cy="466.3" r="3.3"/><circle class="p2" cx="940.9" cy="435.4" r="3.3"/><circle class="p2" cx="940.9" cy="435.4" r="3.3"/><circle class="p2" cx="940.9" cy="389.1" r="3.3"/><circle class="p2" cx="940.9" cy="381.3" r="3.3"/><circle class="p2" cx="949.1" cy="439.3" r="3.3"/><circle class="p2" cx="949.1" cy="427.7" r="3.3"/><circle class="p2" cx="949.1" cy="423.8" r="3.3"/><circle class="p2" cx="949.1" cy="420.0" r="3.3"/><circle class="p2" cx="949.1" cy="412.2" r="3.3"/><circle class="p2" cx="949.1" cy="392.9" r="3.3"/><circle class="p2" cx="957.4" cy="439.3" r="3.3"/><circle class="p2" cx="957.4" cy="435.4" r="3.3"/><circle class="p2" cx="957.4" cy="389.1" r="3.3"/><circle class="p2" cx="965.6" cy="447.0" r="3.3"/><circle class="p2" cx="965.6" cy="439.3" r="3.3"/><circle class="p2" cx="965.6" cy="427.7" r="3.3"/><circle class="p2" cx="965.6" cy="423.8" r="3.3"/><circle class="p2" cx="965.6" cy="420.0" r="3.3"/><circle class="p2" cx="965.6" cy="420.0" r="3.3"/><circle class="p2" cx="965.6" cy="389.1" r="3.3"/><circle class="p2" cx="965.6" cy="389.1" r="3.3"/><circle class="p2" cx="973.9" cy="462.5" r="3.3"/><circle class="p2" cx="973.9" cy="443.1" r="3.3"/><circle class="p2" cx="973.9" cy="427.7" r="3.3"/><circle class="p2" cx="982.1" cy="443.1" r="3.3"/><circle class="p2" cx="982.1" cy="427.7" r="3.3"/><circle class="p2" cx="982.1" cy="408.4" r="3.3"/><path d="M824.4,439.5L832.1,435.6L839.8,431.8L847.6,428.0L855.6,424.4L863.5,420.9L871.5,417.4L879.5,414.1L887.5,410.9L895.5,407.9L903.4,404.9L911.2,402.2L918.9,399.6L926.5,397.2L934.0,394.9L941.3,392.8L948.4,391.0L955.3,389.3L962.0,387.8L968.4,386.5L974.6,385.4L980.6,384.5L986.2,383.8L991.5,383.3L996.5,383.1L1001.2,383.0L1005.5,383.2L1009.5,383.6L1013.1,384.2L1016.3,385.0L1019.2,386.0L1021.6,387.2L1023.6,388.6L1025.3,390.3L1026.5,392.1L1027.3,394.1L1027.6,396.2L1027.6,398.6L1027.2,401.1L1026.3,403.8L1025.0,406.7L1023.3,409.7L1021.2,412.8L1018.7,416.1L1015.8,419.5L1012.5,423.0L1008.8,426.6L1004.8,430.3L1000.4,434.1L995.6,437.9L990.6,441.8L985.2,445.8L979.5,449.8L973.5,453.9L967.3,457.9L960.8,462.0L954.0,466.1L947.1,470.1L939.9,474.1L932.6,478.1L925.1,482.1L917.5,486.0L909.8,489.8L901.9,493.5L894.0,497.2L886.0,500.7L878.0,504.1L870.0,507.5L862.0,510.6L854.1,513.7L846.2,516.6L838.4,519.4L830.6,522.0L823.0,524.4L815.6,526.6L808.3,528.7L801.2,530.6L794.3,532.3L787.6,533.8L781.1,535.1L774.9,536.2L769.0,537.1L763.4,537.8L758.0,538.2L753.0,538.5L748.4,538.5L744.0,538.3L740.1,538.0L736.5,537.4L733.2,536.6L730.4,535.6L728.0,534.3L725.9,532.9L724.3,531.3L723.1,529.5L722.3,527.5L721.9,525.3L722.0,523.0L722.4,520.4L723.3,517.7L724.6,514.9L726.3,511.9L728.4,508.8L730.9,505.5L733.8,502.1L737.1,498.6L740.8,495.0L744.8,491.3L749.2,487.5L753.9,483.6L759.0,479.7L764.4,475.8L770.1,471.7L776.0,467.7L782.3,463.6L788.8,459.6L795.5,455.5L802.5,451.4L809.6,447.4L816.9,443.4Z" fill="rgba(178,178,178,0.19)"/></g>
<g clip-path="url(#c10)"><circle class="p0" cx="96.1" cy="624.6" r="3.3"/><circle class="p0" cx="101.6" cy="630.4" r="3.3"/><circle class="p0" cx="101.6" cy="624.6" r="3.3"/><circle class="p0" cx="101.6" cy="613.0" r="3.3"/><circle class="p0" cx="107.1" cy="665.3" r="3.3"/><circle class="p0" cx="112.6" cy="618.8" r="3.3"/><circle class="p0" cx="112.6" cy="613.0" r="3.3"/><circle class="p0" cx="112.6" cy="601.3" r="3.3"/><circle class="p0" cx="112.6" cy="589.7" r="3.3"/><circle class="p0" cx="118.1" cy="613.0" r="3.3"/><circle class="p0" cx="118.1" cy="613.0" r="3.3"/><circle class="p0" cx="123.5" cy="624.6" r="3.3"/><circle class="p0" cx="123.5" cy="624.6" r="3.3"/><circle class="p0" cx="123.5" cy="618.8" r="3.3"/><circle class="p0" cx="123.5" cy="601.3" r="3.3"/><circle class="p0" cx="123.5" cy="601.3" r="3.3"/><circle class="p1" cx="129.0" cy="659.5" r="3.3"/><circle class="p2" cx="129.0" cy="653.7" r="3.3"/><circle class="p0" cx="129.0" cy="624.6" r="3.3"/><circle class="p0" cx="129.0" cy="618.8" r="3.3"/><circle class="p0" cx="129.0" cy="618.8" r="3.3"/><circle class="p0" cx="129.0" cy="589.7" r="3.3"/><circle class="p1" cx="134.5" cy="682.8" r="3.3"/><circle class="p1" cx="134.5" cy="665.3" r="3.3"/><circle class="p0" cx="134.5" cy="624.6" r="3.3"/><circle class="p0" cx="134.5" cy="613.0" r="3.3"/><circle class="p0" cx="134.5" cy="607.2" r="3.3"/><circle class="p0" cx="134.5" cy="601.3" r="3.3"/><circle class="p0" cx="134.5" cy="601.3" r="3.3"/><circle class="p0" cx="134.5" cy="595.5" r="3.3"/><circle class="p0" cx="134.5" cy="595.5" r="3.3"/><circle class="p0" cx="134.5" cy="589.7" r="3.3"/><circle class="p1" cx="140.0" cy="653.7" r="3.3"/><circle class="p0" cx="140.0" cy="607.2" r="3.3"/><circle class="p0" cx="140.0" cy="601.3" r="3.3"/><circle class="p0" cx="140.0" cy="595.5" r="3.3"/><circle class="p0" cx="140.0" cy="595.5" r="3.3"/><circle class="p0" cx="140.0" cy="583.9" r="3.3"/><circle class="p0" cx="140.0" cy="578.1" r="3.3"/><circle class="p0" cx="140.0" cy="578.1" r="3.3"/><circle class="p0" cx="140.0" cy="578.1" r="3.3"/><circle class="p1" cx="145.5" cy="642.1" r="3.3"/><circle class="p0" cx="145.5" cy="601.3" r="3.3"/><circle class="p0" cx="145.5" cy="595.5" r="3.3"/><circle class="p0" cx="145.5" cy="560.6" r="3.3"/><circle class="p0" cx="151.0" cy="583.9" r="3.3"/><circle class="p1" cx="156.4" cy="624.6" r="3.3"/><circle class="p0" cx="156.4" cy="601.3" r="3.3"/><circle class="p0" cx="156.4" cy="601.3" r="3.3"/><circle class="p0" cx="156.4" cy="583.9" r="3.3"/><circle class="p0" cx="156.4" cy="572.3" r="3.3"/><circle class="p0" cx="156.4" cy="572.3" r="3.3"/><circle class="p1" cx="161.9" cy="665.3" r="3.3"/><circle class="p1" cx="161.9" cy="659.5" r="3.3"/><circle class="p1" cx="161.9" cy="659.5" r="3.3"/><circle class="p1" cx="161.9" cy="653.7" r="3.3"/><circle class="p1" cx="161.9" cy="647.9" r="3.3"/><circle class="p0" cx="161.9" cy="595.5" r="3.3"/><circle class="p0" cx="161.9" cy="554.8" r="3.3"/><circle class="p1" cx="167.4" cy="653.7" r="3.3"/><circle class="p1" cx="167.4" cy="642.1" r="3.3"/><circle class="p2" cx="167.4" cy="636.2" r="3.3"/><circle class="p1" cx="167.4" cy="630.4" r="3.3"/><circle class="p1" cx="167.4" cy="624.6" r="3.3"/><circle class="p1" cx="167.4" cy="624.6" r="3.3"/><circle class="p2" cx="172.9" cy="653.7" r="3.3"/><circle class="p1" cx="172.9" cy="647.9" r="3.3"/><circle class="p1" cx="172.9" cy="636.2" r="3.3"/><circle class="p1" cx="172.9" cy="636.2" r="3.3"/><circle class="p1" cx="172.9" cy="630.4" r="3.3"/><circle class="p1" cx="172.9" cy="624.6" r="3.3"/><circle class="p0" cx="172.9" cy="578.1" r="3.3"/><circle class="p0" cx="172.9" cy="543.2" r="3.3"/><circle class="p1" cx="178.4" cy="647.9" r="3.3"/><circle class="p1" cx="178.4" cy="642.1" r="3.3"/><circle class="p1" cx="178.4" cy="642.1" r="3.3"/><circle class="p2" cx="178.4" cy="642.1" r="3.3"/><circle class="p2" cx="178.4" cy="642.1" r="3.3"/><circle class="p2" cx="178.4" cy="636.2" r="3.3"/><circle class="p0" cx="178.4" cy="566.4" r="3.3"/><circle class="p2" cx="183.9" cy="624.6" r="3.3"/><circle class="p1" cx="183.9" cy="624.6" r="3.3"/><circle class="p1" cx="183.9" cy="613.0" r="3.3"/><circle class="p1" cx="189.3" cy="671.1" r="3.3"/><circle class="p2" cx="189.3" cy="671.1" r="3.3"/><circle class="p1" cx="189.3" cy="642.1" r="3.3"/><circle class="p1" cx="189.3" cy="630.4" r="3.3"/><circle class="p2" cx="189.3" cy="624.6" r="3.3"/><circle class="p1" cx="189.3" cy="601.3" r="3.3"/><circle class="p2" cx="194.8" cy="647.9" r="3.3"/><circle class="p1" cx="194.8" cy="636.2" r="3.3"/><circle class="p1" cx="194.8" cy="636.2" r="3.3"/><circle class="p1" cx="194.8" cy="630.4" r="3.3"/><circle class="p1" cx="194.8" cy="624.6" r="3.3"/><circle class="p2" cx="194.8" cy="624.6" r="3.3"/><circle class="p1" cx="200.3" cy="671.1" r="3.3"/><circle class="p2" cx="200.3" cy="636.2" r="3.3"/><circle class="p1" cx="200.3" cy="630.4" r="3.3"/><circle class="p2" cx="200.3" cy="601.3" r="3.3"/><circle class="p1" cx="205.8" cy="665.3" r="3.3"/><circle class="p1" cx="205.8" cy="653.7" r="3.3"/><circle class="p2" cx="205.8" cy="653.7" r="3.3"/><circle class="p2" cx="205.8" cy="642.1" r="3.3"/><circle class="p2" cx="205.8" cy="636.2" r="3.3"/><circle class="p2" cx="205.8" cy="630.4" r="3.3"/><circle class="p1" cx="205.8" cy="607.2" r="3.3"/><circle class="p2" cx="205.8" cy="607.2" r="3.3"/><circle class="p2" cx="205.8" cy="601.3" r="3.3"/><circle class="p2" cx="211.3" cy="642.1" r="3.3"/><circle class="p2" cx="211.3" cy="636.2" r="3.3"/><circle class="p2" cx="211.3" cy="636.2" r="3.3"/><circle class="p1" cx="211.3" cy="630.4" r="3.3"/><circle class="p2" cx="211.3" cy="618.8" r="3.3"/><circle class="p1" cx="211.3" cy="613.0" r="3.3"/><circle class="p2" cx="211.3" cy="613.0" r="3.3"/><circle class="p1" cx="216.7" cy="636.2" r="3.3"/><circle class="p2" cx="216.7" cy="624.6" r="3.3"/><circle class="p2" cx="216.7" cy="624.6" r="3.3"/><circle class="p2" cx="216.7" cy="624.6" r="3.3"/><circle class="p2" cx="216.7" cy="613.0" r="3.3"/><circle class="p1" cx="222.2" cy="630.4" r="3.3"/><circle class="p1" cx="222.2" cy="624.6" r="3.3"/><circle class="p2" cx="227.7" cy="653.7" r="3.3"/><circle class="p1" cx="227.7" cy="624.6" r="3.3"/><circle class="p2" cx="227.7" cy="624.6" r="3.3"/><circle class="p1" cx="227.7" cy="618.8" r="3.3"/><circle class="p1" cx="227.7" cy="618.8" r="3.3"/><circle class="p2" cx="227.7" cy="618.8" r="3.3"/><circle class="p2" cx="227.7" cy="607.2" r="3.3"/><circle class="p2" cx="227.7" cy="607.2" r="3.3"/><circle class="p1" cx="233.2" cy="636.2" r="3.3"/><circle class="p2" cx="233.2" cy="624.6" r="3.3"/><circle class="p2" cx="233.2" cy="613.0" r="3.3"/><circle class="p1" cx="238.7" cy="618.8" r="3.3"/><circle class="p2" cx="238.7" cy="618.8" r="3.3"/><circle class="p2" cx="238.7" cy="618.8" r="3.3"/><circle class="p2" cx="238.7" cy="613.0" r="3.3"/><circle class="p1" cx="244.2" cy="613.0" r="3.3"/><circle class="p2" cx="249.6" cy="624.6" r="3.3"/><circle class="p2" cx="255.1" cy="624.6" r="3.3"/><circle class="p2" cx="255.1" cy="613.0" r="3.3"/><circle class="p2" cx="255.1" cy="589.7" r="3.3"/><circle class="p2" cx="260.6" cy="630.4" r="3.3"/><circle class="p2" cx="266.1" cy="636.2" r="3.3"/><circle class="p2" cx="277.1" cy="624.6" r="3.3"/><circle class="p2" cx="282.5" cy="647.9" r="3.3"/><circle class="p2" cx="282.5" cy="636.2" r="3.3"/><circle class="p2" cx="282.5" cy="624.6" r="3.3"/><circle class="p2" cx="282.5" cy="578.1" r="3.3"/><circle class="p2" cx="293.5" cy="578.1" r="3.3"/><path d="M175.9,682.1L170.1,681.5L164.4,680.7L158.7,679.8L153.1,678.7L147.5,677.5L142.0,676.0L136.7,674.5L131.5,672.8L126.4,671.0L121.4,669.0L116.6,666.9L112.0,664.6L107.6,662.3L103.4,659.8L99.4,657.3L95.6,654.6L92.0,651.8L88.7,649.0L85.6,646.1L82.8,643.1L80.3,640.0L78.1,636.9L76.1,633.8L74.4,630.6L73.0,627.4L71.9,624.2L71.1,621.0L70.6,617.7L70.4,614.5L70.5,611.3L70.9,608.2L71.6,605.0L72.6,601.9L73.9,598.9L75.5,595.9L77.4,593.0L79.6,590.2L82.0,587.5L84.7,584.8L87.7,582.3L90.9,579.8L94.4,577.5L98.1,575.3L102.1,573.2L106.2,571.2L110.6,569.4L115.2,567.7L119.9,566.2L124.8,564.8L129.8,563.6L135.0,562.6L140.4,561.7L145.8,560.9L151.3,560.4L156.9,559.9L162.6,559.7L168.3,559.6L174.1,559.7L179.8,560.0L185.6,560.5L191.4,561.1L197.1,561.8L202.8,562.8L208.4,563.8L214.0,565.1L219.4,566.5L224.8,568.1L230.0,569.8L235.1,571.6L240.1,573.6L244.9,575.7L249.5,577.9L253.9,580.3L258.1,582.7L262.1,585.3L265.9,588.0L269.5,590.7L272.8,593.6L275.9,596.5L278.6,599.5L281.2,602.5L283.4,605.6L285.4,608.8L287.1,611.9L288.5,615.1L289.6,618.4L290.4,621.6L290.9,624.8L291.1,628.0L291.0,631.2L290.6,634.4L289.9,637.5L288.9,640.6L287.6,643.6L286.0,646.6L284.1,649.5L281.9,652.4L279.5,655.1L276.8,657.7L273.8,660.3L270.5,662.7L267.1,665.1L263.4,667.3L259.4,669.4L255.3,671.3L250.9,673.1L246.3,674.8L241.6,676.3L236.7,677.7L231.6,678.9L226.5,680.0L221.1,680.9L215.7,681.6L210.2,682.2L204.6,682.6L198.9,682.8L193.2,682.9L187.4,682.8L181.7,682.5Z" fill="rgba(178,178,178,0.19)"/></g>
<g clip-path="url(#c12)"><circle class="p0" cx="554.9" cy="589.7" r="3.3"/><circle class="p0" cx="558.2" cy="624.6" r="3.3"/><circle class="p0" cx="561.6" cy="613.0" r="3.3"/><circle class="p0" cx="561.6" cy="566.4" r="3.3"/><circle class="p0" cx="564.9" cy="665.3" r="3.3"/><circle class="p0" cx="564.9" cy="624.6" r="3.3"/><circle class="p0" cx="564.9" cy="613.0" r="3.3"/><circle class="p0" cx="564.9" cy="613.0" r="3.3"/><circle class="p0" cx="564.9" cy="595.5" r="3.3"/><circle class="p0" cx="564.9" cy="595.5" r="3.3"/><circle class="p0" cx="564.9" cy="572.3" r="3.3"/><circle class="p0" cx="568.2" cy="630.4" r="3.3"/><circle class="p0" cx="568.2" cy="624.6" r="3.3"/><circle class="p0" cx="568.2" cy="624.6" r="3.3"/><circle class="p0" cx="568.2" cy="624.6" r="3.3"/><circle class="p0" cx="568.2" cy="613.0" r="3.3"/><circle class="p0" cx="568.2" cy="607.2" r="3.3"/><circle class="p0" cx="568.2" cy="601.3" r="3.3"/><circle class="p0" cx="568.2" cy="601.3" r="3.3"/><circle class="p0" cx="568.2" cy="595.5" r="3.3"/><circle class="p0" cx="568.2" cy="595.5" r="3.3"/><circle class="p0" cx="568.2" cy="589.7" r="3.3"/><circle class="p0" cx="568.2" cy="589.7" r="3.3"/><circle class="p0" cx="568.2" cy="554.8" r="3.3"/><circle class="p0" cx="571.6" cy="618.8" r="3.3"/><circle class="p0" cx="571.6" cy="618.8" r="3.3"/><circle class="p0" cx="571.6" cy="618.8" r="3.3"/><circle class="p0" cx="571.6" cy="601.3" r="3.3"/><circle class="p0" cx="571.6" cy="601.3" r="3.3"/><circle class="p0" cx="571.6" cy="601.3" r="3.3"/><circle class="p0" cx="571.6" cy="595.5" r="3.3"/><circle class="p0" cx="571.6" cy="583.9" r="3.3"/><circle class="p0" cx="571.6" cy="583.9" r="3.3"/><circle class="p0" cx="571.6" cy="583.9" r="3.3"/><circle class="p0" cx="571.6" cy="578.1" r="3.3"/><circle class="p0" cx="571.6" cy="560.6" r="3.3"/><circle class="p0" cx="571.6" cy="543.2" r="3.3"/><circle class="p0" cx="574.9" cy="624.6" r="3.3"/><circle class="p0" cx="574.9" cy="618.8" r="3.3"/><circle class="p0" cx="574.9" cy="613.0" r="3.3"/><circle class="p0" cx="574.9" cy="601.3" r="3.3"/><circle class="p0" cx="574.9" cy="601.3" r="3.3"/><circle class="p0" cx="574.9" cy="595.5" r="3.3"/><circle class="p0" cx="574.9" cy="578.1" r="3.3"/><circle class="p0" cx="578.3" cy="607.2" r="3.3"/><circle class="p0" cx="578.3" cy="601.3" r="3.3"/><circle class="p0" cx="578.3" cy="578.1" r="3.3"/><circle class="p0" cx="578.3" cy="572.3" r="3.3"/><circle class="p0" cx="585.0" cy="601.3" r="3.3"/><circle class="p0" cx="585.0" cy="578.1" r="3.3"/><circle class="p1" cx="621.7" cy="653.7" r="3.3"/><circle class="p1" cx="631.8" cy="665.3" r="3.3"/><circle class="p1" cx="631.8" cy="659.5" r="3.3"/><circle class="p1" cx="638.5" cy="682.8" r="3.3"/><circle class="p1" cx="638.5" cy="647.9" r="3.3"/><circle class="p1" cx="641.8" cy="630.4" r="3.3"/><circle class="p1" cx="645.1" cy="659.5" r="3.3"/><circle class="p1" cx="648.5" cy="659.5" r="3.3"/><circle class="p1" cx="651.8" cy="653.7" r="3.3"/><circle class="p1" cx="651.8" cy="642.1" r="3.3"/><circle class="p1" cx="651.8" cy="642.1" r="3.3"/><circle class="p1" cx="655.2" cy="671.1" r="3.3"/><circle class="p1" cx="655.2" cy="665.3" r="3.3"/><circle class="p1" cx="655.2" cy="653.7" r="3.3"/><circle class="p1" cx="655.2" cy="647.9" r="3.3"/><circle class="p1" cx="655.2" cy="636.2" r="3.3"/><circle class="p1" cx="658.5" cy="642.1" r="3.3"/><circle class="p1" cx="658.5" cy="636.2" r="3.3"/><circle class="p1" cx="658.5" cy="624.6" r="3.3"/><circle class="p1" cx="661.9" cy="642.1" r="3.3"/><circle class="p1" cx="661.9" cy="630.4" r="3.3"/><circle class="p1" cx="661.9" cy="624.6" r="3.3"/><circle class="p1" cx="661.9" cy="624.6" r="3.3"/><circle class="p1" cx="665.2" cy="630.4" r="3.3"/><circle class="p1" cx="665.2" cy="630.4" r="3.3"/><circle class="p1" cx="668.6" cy="665.3" r="3.3"/><circle class="p1" cx="668.6" cy="647.9" r="3.3"/><circle class="p1" cx="668.6" cy="624.6" r="3.3"/><circle class="p1" cx="668.6" cy="618.8" r="3.3"/><circle class="p1" cx="671.9" cy="671.1" r="3.3"/><circle class="p2" cx="671.9" cy="653.7" r="3.3"/><circle class="p1" cx="671.9" cy="636.2" r="3.3"/><circle class="p1" cx="671.9" cy="630.4" r="3.3"/><circle class="p1" cx="671.9" cy="624.6" r="3.3"/><circle class="p1" cx="671.9" cy="624.6" r="3.3"/><circle class="p1" cx="671.9" cy="613.0" r="3.3"/><circle class="p1" cx="671.9" cy="601.3" r="3.3"/><circle class="p1" cx="675.2" cy="636.2" r="3.3"/><circle class="p1" cx="675.2" cy="630.4" r="3.3"/><circle class="p1" cx="675.2" cy="624.6" r="3.3"/><circle class="p1" cx="678.6" cy="636.2" r="3.3"/><circle class="p1" cx="678.6" cy="630.4" r="3.3"/><circle class="p1" cx="678.6" cy="618.8" r="3.3"/><circle class="p1" cx="678.6" cy="613.0" r="3.3"/><circle class="p1" cx="678.6" cy="607.2" r="3.3"/><circle class="p1" cx="681.9" cy="636.2" r="3.3"/><circle class="p2" cx="681.9" cy="636.2" r="3.3"/><circle class="p2" cx="681.9" cy="624.6" r="3.3"/><circle class="p1" cx="681.9" cy="613.0" r="3.3"/><circle class="p1" cx="685.3" cy="653.7" r="3.3"/><circle class="p2" cx="685.3" cy="642.1" r="3.3"/><circle class="p2" cx="685.3" cy="636.2" r="3.3"/><circle class="p2" cx="685.3" cy="624.6" r="3.3"/><circle class="p1" cx="685.3" cy="618.8" r="3.3"/><circle class="p2" cx="688.6" cy="671.1" r="3.3"/><circle class="p2" cx="688.6" cy="653.7" r="3.3"/><circle class="p2" cx="688.6" cy="653.7" r="3.3"/><circle class="p1" cx="688.6" cy="624.6" r="3.3"/><circle class="p1" cx="692.0" cy="642.1" r="3.3"/><circle class="p2" cx="692.0" cy="642.1" r="3.3"/><circle class="p2" cx="692.0" cy="642.1" r="3.3"/><circle class="p2" cx="692.0" cy="636.2" r="3.3"/><circle class="p2" cx="692.0" cy="636.2" r="3.3"/><circle class="p2" cx="692.0" cy="624.6" r="3.3"/><circle class="p2" cx="692.0" cy="618.8" r="3.3"/><circle class="p2" cx="692.0" cy="613.0" r="3.3"/><circle class="p2" cx="695.3" cy="624.6" r="3.3"/><circle class="p2" cx="695.3" cy="624.6" r="3.3"/><circle class="p2" cx="698.6" cy="642.1" r="3.3"/><circle class="p2" cx="698.6" cy="613.0" r="3.3"/><circle class="p2" cx="702.0" cy="618.8" r="3.3"/><circle class="p2" cx="702.0" cy="601.3" r="3.3"/><circle class="p2" cx="705.3" cy="624.6" r="3.3"/><circle class="p2" cx="705.3" cy="624.6" r="3.3"/><circle class="p2" cx="705.3" cy="618.8" r="3.3"/><circle class="p2" cx="708.7" cy="647.9" r="3.3"/><circle class="p2" cx="708.7" cy="636.2" r="3.3"/><circle class="p2" cx="708.7" cy="636.2" r="3.3"/><circle class="p2" cx="708.7" cy="630.4" r="3.3"/><circle class="p2" cx="708.7" cy="618.8" r="3.3"/><circle class="p2" cx="708.7" cy="601.3" r="3.3"/><circle class="p2" cx="712.0" cy="613.0" r="3.3"/><circle class="p2" cx="712.0" cy="607.2" r="3.3"/><circle class="p2" cx="712.0" cy="607.2" r="3.3"/><circle class="p2" cx="715.4" cy="653.7" r="3.3"/><circle class="p2" cx="715.4" cy="624.6" r="3.3"/><circle class="p2" cx="715.4" cy="624.6" r="3.3"/><circle class="p2" cx="718.7" cy="624.6" r="3.3"/><circle class="p2" cx="718.7" cy="613.0" r="3.3"/><circle class="p2" cx="722.1" cy="613.0" r="3.3"/><circle class="p2" cx="722.1" cy="607.2" r="3.3"/><circle class="p2" cx="725.4" cy="636.2" r="3.3"/><circle class="p2" cx="725.4" cy="624.6" r="3.3"/><circle class="p2" cx="725.4" cy="589.7" r="3.3"/><circle class="p2" cx="732.1" cy="630.4" r="3.3"/><circle class="p2" cx="735.4" cy="578.1" r="3.3"/><circle class="p2" cx="742.1" cy="624.6" r="3.3"/><circle class="p2" cx="745.5" cy="636.2" r="3.3"/><circle class="p2" cx="745.5" cy="578.1" r="3.3"/><circle class="p2" cx="752.1" cy="647.9" r="3.3"/><path d="M643.6,676.3L636.1,674.8L628.6,673.1L621.2,671.3L613.8,669.3L606.6,667.2L599.4,665.0L592.4,662.7L585.5,660.2L578.8,657.7L572.3,655.0L566.0,652.3L559.9,649.5L554.1,646.6L548.5,643.6L543.2,640.5L538.1,637.5L533.4,634.3L529.0,631.2L524.9,628.0L521.1,624.7L517.7,621.5L514.6,618.3L511.9,615.1L509.6,611.9L507.6,608.7L506.1,605.6L504.9,602.5L504.1,599.4L503.7,596.4L503.7,593.5L504.0,590.7L504.8,587.9L506.0,585.2L507.5,582.7L509.5,580.2L511.8,577.9L514.4,575.6L517.5,573.5L520.9,571.6L524.6,569.7L528.7,568.0L533.1,566.5L537.8,565.1L542.9,563.8L548.2,562.7L553.7,561.8L559.6,561.0L565.6,560.4L571.9,560.0L578.4,559.7L585.1,559.6L592.0,559.7L599.0,560.0L606.1,560.4L613.4,560.9L620.7,561.7L628.1,562.6L635.6,563.7L643.1,564.9L650.6,566.3L658.1,567.8L665.6,569.5L673.0,571.3L680.4,573.2L687.6,575.3L694.8,577.5L701.8,579.9L708.6,582.3L715.3,584.9L721.9,587.5L728.2,590.2L734.2,593.1L740.1,596.0L745.7,599.0L751.0,602.0L756.0,605.1L760.8,608.2L765.2,611.4L769.3,614.6L773.1,617.8L776.5,621.0L779.5,624.3L782.3,627.5L784.6,630.7L786.5,633.8L788.1,637.0L789.3,640.1L790.1,643.1L790.5,646.1L790.5,649.0L790.1,651.9L789.4,654.6L788.2,657.3L786.7,659.9L784.7,662.3L782.4,664.7L779.7,666.9L776.7,669.0L773.3,671.0L769.5,672.8L765.5,674.5L761.1,676.1L756.3,677.5L751.3,678.7L746.0,679.8L740.4,680.7L734.6,681.5L728.5,682.1L722.3,682.5L715.8,682.8L709.1,682.9L702.2,682.8L695.2,682.6L688.1,682.2L680.8,681.6L673.5,680.9L666.1,680.0L658.6,678.9L651.1,677.7Z" fill="rgba(178,178,178,0.19)"/></g>
<g clip-path="url(#c13)"><circle class="p0" cx="784.1" cy="624.6" r="3.3"/><circle class="p0" cx="784.1" cy="624.6" r="3.3"/><circle class="p0" cx="784.1" cy="618.8" r="3.3"/><circle class="p0" cx="784.1" cy="589.7" r="3.3"/><circle class="p0" cx="784.1" cy="560.6" r="3.3"/><circle class="p0" cx="792.3" cy="630.4" r="3.3"/><circle class="p0" cx="792.3" cy="624.6" r="3.3"/><circle class="p0" cx="792.3" cy="624.6" r="3.3"/><circle class="p0" cx="792.3" cy="624.6" r="3.3"/><circle class="p0" cx="792.3" cy="618.8" r="3.3"/><circle class="p0" cx="792.3" cy="618.8" r="3.3"/><circle class="p0" cx="792.3" cy="618.8" r="3.3"/><circle class="p0" cx="792.3" cy="613.0" r="3.3"/><circle class="p0" cx="792.3" cy="613.0" r="3.3"/><circle class="p0" cx="792.3" cy="613.0" r="3.3"/><circle class="p0" cx="792.3" cy="613.0" r="3.3"/><circle class="p0" cx="792.3" cy="613.0" r="3.3"/><circle class="p0" cx="792.3" cy="607.2" r="3.3"/><circle class="p0" cx="792.3" cy="601.3" r="3.3"/><circle class="p0" cx="792.3" cy="601.3" r="3.3"/><circle class="p0" cx="792.3" cy="601.3" r="3.3"/><circle class="p0" cx="792.3" cy="601.3" r="3.3"/><circle class="p0" cx="792.3" cy="601.3" r="3.3"/><circle class="p0" cx="792.3" cy="601.3" r="3.3"/><circle class="p0" cx="792.3" cy="595.5" r="3.3"/><circle class="p0" cx="792.3" cy="595.5" r="3.3"/><circle class="p0" cx="792.3" cy="595.5" r="3.3"/><circle class="p0" cx="792.3" cy="589.7" r="3.3"/><circle class="p0" cx="792.3" cy="589.7" r="3.3"/><circle class="p0" cx="792.3" cy="583.9" r="3.3"/><circle class="p0" cx="792.3" cy="583.9" r="3.3"/><circle class="p0" cx="792.3" cy="578.1" r="3.3"/><circle class="p0" cx="792.3" cy="566.4" r="3.3"/><circle class="p0" cx="792.3" cy="554.8" r="3.3"/><circle class="p0" cx="800.6" cy="665.3" r="3.3"/><circle class="p0" cx="800.6" cy="624.6" r="3.3"/><circle class="p0" cx="800.6" cy="601.3" r="3.3"/><circle class="p0" cx="800.6" cy="595.5" r="3.3"/><circle class="p0" cx="800.6" cy="595.5" r="3.3"/><circle class="p0" cx="800.6" cy="578.1" r="3.3"/><circle class="p0" cx="800.6" cy="578.1" r="3.3"/><circle class="p0" cx="808.8" cy="601.3" r="3.3"/><circle class="p0" cx="808.8" cy="601.3" r="3.3"/><circle class="p0" cx="808.8" cy="583.9" r="3.3"/><circle class="p0" cx="808.8" cy="578.1" r="3.3"/><circle class="p0" cx="808.8" cy="572.3" r="3.3"/><circle class="p0" cx="808.8" cy="572.3" r="3.3"/><circle class="p0" cx="808.8" cy="543.2" r="3.3"/><circle class="p0" cx="817.1" cy="607.2" r="3.3"/><circle class="p0" cx="825.3" cy="595.5" r="3.3"/><circle class="p1" cx="858.3" cy="682.8" r="3.3"/><circle class="p1" cx="858.3" cy="671.1" r="3.3"/><circle class="p1" cx="858.3" cy="665.3" r="3.3"/><circle class="p1" cx="858.3" cy="659.5" r="3.3"/><circle class="p1" cx="858.3" cy="659.5" r="3.3"/><circle class="p1" cx="858.3" cy="647.9" r="3.3"/><circle class="p1" cx="858.3" cy="642.1" r="3.3"/><circle class="p1" cx="866.6" cy="659.5" r="3.3"/><circle class="p1" cx="866.6" cy="653.7" r="3.3"/><circle class="p1" cx="866.6" cy="653.7" r="3.3"/><circle class="p1" cx="874.8" cy="647.9" r="3.3"/><circle class="p1" cx="874.8" cy="647.9" r="3.3"/><circle class="p1" cx="874.8" cy="642.1" r="3.3"/><circle class="p1" cx="874.8" cy="636.2" r="3.3"/><circle class="p1" cx="874.8" cy="624.6" r="3.3"/><circle class="p1" cx="883.1" cy="665.3" r="3.3"/><circle class="p1" cx="883.1" cy="665.3" r="3.3"/><circle class="p1" cx="883.1" cy="653.7" r="3.3"/><circle class="p1" cx="883.1" cy="642.1" r="3.3"/><circle class="p1" cx="883.1" cy="636.2" r="3.3"/><circle class="p1" cx="883.1" cy="636.2" r="3.3"/><circle class="p1" cx="883.1" cy="636.2" r="3.3"/><circle class="p1" cx="883.1" cy="630.4" r="3.3"/><circle class="p1" cx="883.1" cy="630.4" r="3.3"/><circle class="p1" cx="883.1" cy="630.4" r="3.3"/><circle class="p1" cx="883.1" cy="630.4" r="3.3"/><circle class="p1" cx="883.1" cy="630.4" r="3.3"/><circle class="p1" cx="883.1" cy="624.6" r="3.3"/><circle class="p2" cx="891.3" cy="647.9" r="3.3"/><circle class="p1" cx="891.3" cy="642.1" r="3.3"/><circle class="p1" cx="891.3" cy="636.2" r="3.3"/><circle class="p1" cx="891.3" cy="630.4" r="3.3"/><circle class="p1" cx="891.3" cy="624.6" r="3.3"/><circle class="p1" cx="891.3" cy="624.6" r="3.3"/><circle class="p1" cx="891.3" cy="618.8" r="3.3"/><circle class="p1" cx="891.3" cy="613.0" r="3.3"/><circle class="p1" cx="899.6" cy="671.1" r="3.3"/><circle class="p2" cx="899.6" cy="671.1" r="3.3"/><circle class="p1" cx="899.6" cy="653.7" r="3.3"/><circle class="p1" cx="899.6" cy="636.2" r="3.3"/><circle class="p2" cx="899.6" cy="636.2" r="3.3"/><circle class="p1" cx="899.6" cy="630.4" r="3.3"/><circle class="p1" cx="899.6" cy="624.6" r="3.3"/><circle class="p1" cx="899.6" cy="624.6" r="3.3"/><circle class="p1" cx="899.6" cy="624.6" r="3.3"/><circle class="p1" cx="899.6" cy="618.8" r="3.3"/><circle class="p1" cx="899.6" cy="618.8" r="3.3"/><circle class="p1" cx="899.6" cy="613.0" r="3.3"/><circle class="p1" cx="907.8" cy="642.1" r="3.3"/><circle class="p2" cx="907.8" cy="624.6" r="3.3"/><circle class="p1" cx="907.8" cy="607.2" r="3.3"/><circle class="p1" cx="907.8" cy="601.3" r="3.3"/><circle class="p2" cx="916.1" cy="653.7" r="3.3"/><circle class="p1" cx="916.1" cy="624.6" r="3.3"/><circle class="p2" cx="924.4" cy="653.7" r="3.3"/><circle class="p2" cx="924.4" cy="642.1" r="3.3"/><circle class="p2" cx="924.4" cy="636.2" r="3.3"/><circle class="p2" cx="924.4" cy="630.4" r="3.3"/><circle class="p2" cx="924.4" cy="630.4" r="3.3"/><circle class="p2" cx="924.4" cy="624.6" r="3.3"/><circle class="p2" cx="924.4" cy="624.6" r="3.3"/><circle class="p2" cx="924.4" cy="624.6" r="3.3"/><circle class="p2" cx="924.4" cy="624.6" r="3.3"/><circle class="p2" cx="924.4" cy="618.8" r="3.3"/><circle class="p1" cx="924.4" cy="613.0" r="3.3"/><circle class="p2" cx="924.4" cy="613.0" r="3.3"/><circle class="p2" cx="932.6" cy="653.7" r="3.3"/><circle class="p2" cx="932.6" cy="642.1" r="3.3"/><circle class="p2" cx="932.6" cy="642.1" r="3.3"/><circle class="p2" cx="932.6" cy="642.1" r="3.3"/><circle class="p2" cx="932.6" cy="636.2" r="3.3"/><circle class="p2" cx="940.9" cy="653.7" r="3.3"/><circle class="p2" cx="940.9" cy="636.2" r="3.3"/><circle class="p2" cx="940.9" cy="636.2" r="3.3"/><circle class="p2" cx="940.9" cy="624.6" r="3.3"/><circle class="p2" cx="940.9" cy="613.0" r="3.3"/><circle class="p2" cx="940.9" cy="578.1" r="3.3"/><circle class="p2" cx="949.1" cy="636.2" r="3.3"/><circle class="p2" cx="949.1" cy="624.6" r="3.3"/><circle class="p2" cx="949.1" cy="624.6" r="3.3"/><circle class="p2" cx="949.1" cy="624.6" r="3.3"/><circle class="p2" cx="949.1" cy="618.8" r="3.3"/><circle class="p2" cx="949.1" cy="607.2" r="3.3"/><circle class="p2" cx="957.4" cy="636.2" r="3.3"/><circle class="p2" cx="957.4" cy="624.6" r="3.3"/><circle class="p2" cx="957.4" cy="578.1" r="3.3"/><circle class="p2" cx="965.6" cy="647.9" r="3.3"/><circle class="p2" cx="965.6" cy="624.6" r="3.3"/><circle class="p2" cx="965.6" cy="624.6" r="3.3"/><circle class="p2" cx="965.6" cy="618.8" r="3.3"/><circle class="p2" cx="965.6" cy="613.0" r="3.3"/><circle class="p2" cx="965.6" cy="613.0" r="3.3"/><circle class="p2" cx="965.6" cy="613.0" r="3.3"/><circle class="p2" cx="965.6" cy="601.3" r="3.3"/><circle class="p2" cx="973.9" cy="636.2" r="3.3"/><circle class="p2" cx="973.9" cy="618.8" r="3.3"/><circle class="p2" cx="973.9" cy="601.3" r="3.3"/><circle class="p2" cx="982.1" cy="607.2" r="3.3"/><circle class="p2" cx="982.1" cy="607.2" r="3.3"/><circle class="p2" cx="982.1" cy="589.7" r="3.3"/><path d="M853.1,674.8L845.2,673.2L837.4,671.4L829.7,669.4L822.1,667.3L814.6,665.1L807.4,662.8L800.3,660.4L793.4,657.8L786.7,655.2L780.3,652.4L774.1,649.6L768.3,646.7L762.7,643.7L757.4,640.7L752.4,637.6L747.8,634.5L743.5,631.3L739.6,628.1L736.0,624.9L732.9,621.7L730.1,618.4L727.7,615.2L725.7,612.0L724.1,608.8L723.0,605.7L722.2,602.6L721.9,599.5L722.0,596.6L722.5,593.6L723.4,590.8L724.8,588.0L726.5,585.4L728.7,582.8L731.2,580.3L734.2,578.0L737.5,575.7L741.3,573.6L745.3,571.6L749.8,569.8L754.6,568.1L759.7,566.5L765.1,565.1L770.8,563.9L776.8,562.8L783.1,561.8L789.6,561.1L796.4,560.5L803.4,560.0L810.6,559.7L817.9,559.6L825.4,559.7L833.1,559.9L840.8,560.3L848.7,560.9L856.6,561.6L864.5,562.5L872.5,563.6L880.6,564.8L888.5,566.2L896.5,567.7L904.4,569.4L912.2,571.2L919.9,573.1L927.5,575.2L934.9,577.4L942.2,579.7L949.3,582.2L956.2,584.7L962.8,587.4L969.3,590.1L975.4,592.9L981.3,595.9L986.9,598.8L992.2,601.9L997.2,604.9L1001.8,608.1L1006.1,611.2L1010.0,614.4L1013.5,617.7L1016.7,620.9L1019.5,624.1L1021.9,627.3L1023.9,630.5L1025.4,633.7L1026.6,636.8L1027.3,639.9L1027.7,643.0L1027.6,646.0L1027.1,648.9L1026.1,651.8L1024.8,654.5L1023.0,657.2L1020.9,659.8L1018.3,662.2L1015.4,664.6L1012.0,666.8L1008.3,668.9L1004.2,670.9L999.8,672.7L995.0,674.5L989.9,676.0L984.5,677.4L978.7,678.7L972.7,679.8L966.5,680.7L959.9,681.5L953.2,682.1L946.2,682.5L939.0,682.8L931.7,682.9L924.1,682.8L916.5,682.6L908.8,682.2L900.9,681.6L893.0,680.9L885.0,680.0L877.0,678.9L869.0,677.7L861.0,676.4Z" fill="rgba(178,178,178,0.19)"/></g>
<g clip-path="url(#c20)"><circle class="p0" cx="96.1" cy="842.5" r="3.3"/><circle class="p0" cx="101.6" cy="837.8" r="3.3"/><circle class="p0" cx="101.6" cy="837.8" r="3.3"/><circle class="p0" cx="101.6" cy="835.4" r="3.3"/><circle class="p0" cx="107.1" cy="837.8" r="3.3"/><circle class="p0" cx="112.6" cy="844.9" r="3.3"/><circle class="p0" cx="112.6" cy="835.4" r="3.3"/><circle class="p0" cx="112.6" cy="835.4" r="3.3"/><circle class="p0" cx="112.6" cy="833.1" r="3.3"/><circle class="p0" cx="118.1" cy="837.8" r="3.3"/><circle class="p0" cx="118.1" cy="830.7" r="3.3"/><circle class="p0" cx="123.5" cy="835.4" r="3.3"/><circle class="p0" cx="123.5" cy="835.4" r="3.3"/><circle class="p0" cx="123.5" cy="830.7" r="3.3"/><circle class="p0" cx="123.5" cy="830.7" r="3.3"/><circle class="p0" cx="123.5" cy="823.6" r="3.3"/><circle class="p0" cx="129.0" cy="835.4" r="3.3"/><circle class="p0" cx="129.0" cy="835.4" r="3.3"/><circle class="p0" cx="129.0" cy="833.1" r="3.3"/><circle class="p0" cx="129.0" cy="833.1" r="3.3"/><circle class="p1" cx="129.0" cy="790.4" r="3.3"/><circle class="p2" cx="129.0" cy="762.0" r="3.3"/><circle class="p0" cx="134.5" cy="840.2" r="3.3"/><circle class="p0" cx="134.5" cy="837.8" r="3.3"/><circle class="p0" cx="134.5" cy="835.4" r="3.3"/><circle class="p0" cx="134.5" cy="835.4" r="3.3"/><circle class="p0" cx="134.5" cy="833.1" r="3.3"/><circle class="p0" cx="134.5" cy="830.7" r="3.3"/><circle class="p0" cx="134.5" cy="830.7" r="3.3"/><circle class="p0" cx="134.5" cy="830.7" r="3.3"/><circle class="p1" cx="134.5" cy="790.4" r="3.3"/><circle class="p1" cx="134.5" cy="785.7" r="3.3"/><circle class="p0" cx="140.0" cy="835.4" r="3.3"/><circle class="p0" cx="140.0" cy="835.4" r="3.3"/><circle class="p0" cx="140.0" cy="833.1" r="3.3"/><circle class="p0" cx="140.0" cy="833.1" r="3.3"/><circle class="p0" cx="140.0" cy="833.1" r="3.3"/><circle class="p0" cx="140.0" cy="830.7" r="3.3"/><circle class="p0" cx="140.0" cy="828.3" r="3.3"/><circle class="p0" cx="140.0" cy="823.6" r="3.3"/><circle class="p1" cx="140.0" cy="797.5" r="3.3"/><circle class="p0" cx="145.5" cy="835.4" r="3.3"/><circle class="p0" cx="145.5" cy="833.1" r="3.3"/><circle class="p0" cx="145.5" cy="833.1" r="3.3"/><circle class="p1" cx="145.5" cy="776.2" r="3.3"/><circle class="p0" cx="151.0" cy="833.1" r="3.3"/><circle class="p0" cx="156.4" cy="837.8" r="3.3"/><circle class="p0" cx="156.4" cy="833.1" r="3.3"/><circle class="p0" cx="156.4" cy="833.1" r="3.3"/><circle class="p0" cx="156.4" cy="828.3" r="3.3"/><circle class="p0" cx="156.4" cy="828.3" r="3.3"/><circle class="p1" cx="156.4" cy="762.0" r="3.3"/><circle class="p0" cx="161.9" cy="837.8" r="3.3"/><circle class="p0" cx="161.9" cy="835.4" r="3.3"/><circle class="p1" cx="161.9" cy="780.9" r="3.3"/><circle class="p1" cx="161.9" cy="778.6" r="3.3"/><circle class="p1" cx="161.9" cy="773.8" r="3.3"/><circle class="p1" cx="161.9" cy="773.8" r="3.3"/><circle class="p1" cx="161.9" cy="764.4" r="3.3"/><circle class="p1" cx="167.4" cy="783.3" r="3.3"/><circle class="p1" cx="167.4" cy="776.2" r="3.3"/><circle class="p1" cx="167.4" cy="771.5" r="3.3"/><circle class="p1" cx="167.4" cy="769.1" r="3.3"/><circle class="p1" cx="167.4" cy="762.0" r="3.3"/><circle class="p2" cx="167.4" cy="752.5" r="3.3"/><circle class="p0" cx="172.9" cy="833.1" r="3.3"/><circle class="p0" cx="172.9" cy="828.3" r="3.3"/><circle class="p1" cx="172.9" cy="785.7" r="3.3"/><circle class="p1" cx="172.9" cy="771.5" r="3.3"/><circle class="p1" cx="172.9" cy="769.1" r="3.3"/><circle class="p1" cx="172.9" cy="769.1" r="3.3"/><circle class="p1" cx="172.9" cy="762.0" r="3.3"/><circle class="p2" cx="172.9" cy="750.2" r="3.3"/><circle class="p0" cx="178.4" cy="840.2" r="3.3"/><circle class="p1" cx="178.4" cy="776.2" r="3.3"/><circle class="p1" cx="178.4" cy="773.8" r="3.3"/><circle class="p1" cx="178.4" cy="771.5" r="3.3"/><circle class="p2" cx="178.4" cy="747.8" r="3.3"/><circle class="p2" cx="178.4" cy="747.8" r="3.3"/><circle class="p2" cx="178.4" cy="747.8" r="3.3"/><circle class="p1" cx="183.9" cy="769.1" r="3.3"/><circle class="p1" cx="183.9" cy="754.9" r="3.3"/><circle class="p2" cx="183.9" cy="747.8" r="3.3"/><circle class="p1" cx="189.3" cy="773.8" r="3.3"/><circle class="p1" cx="189.3" cy="762.0" r="3.3"/><circle class="p1" cx="189.3" cy="762.0" r="3.3"/><circle class="p2" cx="189.3" cy="754.9" r="3.3"/><circle class="p2" cx="189.3" cy="750.2" r="3.3"/><circle class="p1" cx="189.3" cy="747.8" r="3.3"/><circle class="p1" cx="194.8" cy="773.8" r="3.3"/><circle class="p1" cx="194.8" cy="759.6" r="3.3"/><circle class="p1" cx="194.8" cy="757.3" r="3.3"/><circle class="p1" cx="194.8" cy="757.3" r="3.3"/><circle class="p2" cx="194.8" cy="752.5" r="3.3"/><circle class="p2" cx="194.8" cy="735.9" r="3.3"/><circle class="p1" cx="200.3" cy="766.7" r="3.3"/><circle class="p1" cx="200.3" cy="762.0" r="3.3"/><circle class="p2" cx="200.3" cy="754.9" r="3.3"/><circle class="p2" cx="200.3" cy="740.7" r="3.3"/><circle class="p1" cx="205.8" cy="764.4" r="3.3"/><circle class="p1" cx="205.8" cy="757.3" r="3.3"/><circle class="p1" cx="205.8" cy="752.5" r="3.3"/><circle class="p2" cx="205.8" cy="752.5" r="3.3"/><circle class="p2" cx="205.8" cy="750.2" r="3.3"/><circle class="p2" cx="205.8" cy="747.8" r="3.3"/><circle class="p2" cx="205.8" cy="735.9" r="3.3"/><circle class="p2" cx="205.8" cy="735.9" r="3.3"/><circle class="p2" cx="205.8" cy="726.5" r="3.3"/><circle class="p1" cx="211.3" cy="766.7" r="3.3"/><circle class="p1" cx="211.3" cy="762.0" r="3.3"/><circle class="p2" cx="211.3" cy="743.0" r="3.3"/><circle class="p2" cx="211.3" cy="743.0" r="3.3"/><circle class="p2" cx="211.3" cy="738.3" r="3.3"/><circle class="p2" cx="211.3" cy="735.9" r="3.3"/><circle class="p2" cx="211.3" cy="735.9" r="3.3"/><circle class="p1" cx="216.7" cy="759.6" r="3.3"/><circle class="p2" cx="216.7" cy="747.8" r="3.3"/><circle class="p2" cx="216.7" cy="745.4" r="3.3"/><circle class="p2" cx="216.7" cy="738.3" r="3.3"/><circle class="p2" cx="216.7" cy="731.2" r="3.3"/><circle class="p1" cx="222.2" cy="764.4" r="3.3"/><circle class="p1" cx="222.2" cy="759.6" r="3.3"/><circle class="p1" cx="227.7" cy="764.4" r="3.3"/><circle class="p1" cx="227.7" cy="757.3" r="3.3"/><circle class="p1" cx="227.7" cy="750.2" r="3.3"/><circle class="p2" cx="227.7" cy="745.4" r="3.3"/><circle class="p2" cx="227.7" cy="735.9" r="3.3"/><circle class="p2" cx="227.7" cy="733.6" r="3.3"/><circle class="p2" cx="227.7" cy="733.6" r="3.3"/><circle class="p2" cx="227.7" cy="731.2" r="3.3"/><circle class="p1" cx="233.2" cy="754.9" r="3.3"/><circle class="p2" cx="233.2" cy="738.3" r="3.3"/><circle class="p2" cx="233.2" cy="728.8" r="3.3"/><circle class="p1" cx="238.7" cy="752.5" r="3.3"/><circle class="p2" cx="238.7" cy="747.8" r="3.3"/><circle class="p2" cx="238.7" cy="740.7" r="3.3"/><circle class="p2" cx="238.7" cy="733.6" r="3.3"/><circle class="p1" cx="244.2" cy="757.3" r="3.3"/><circle class="p2" cx="249.6" cy="728.8" r="3.3"/><circle class="p2" cx="255.1" cy="731.2" r="3.3"/><circle class="p2" cx="255.1" cy="726.5" r="3.3"/><circle class="p2" cx="255.1" cy="724.1" r="3.3"/><circle class="p2" cx="260.6" cy="719.4" r="3.3"/><circle class="p2" cx="266.1" cy="724.1" r="3.3"/><circle class="p2" cx="277.1" cy="712.3" r="3.3"/><circle class="p2" cx="282.5" cy="724.1" r="3.3"/><circle class="p2" cx="282.5" cy="709.9" r="3.3"/><circle class="p2" cx="282.5" cy="709.9" r="3.3"/><circle class="p2" cx="282.5" cy="705.2" r="3.3"/><circle class="p2" cx="293.5" cy="717.0" r="3.3"/><path d="M134.9,771.1L140.2,765.8L145.6,760.6L151.2,755.4L156.8,750.2L162.4,745.2L168.2,740.2L173.9,735.4L179.7,730.6L185.5,726.0L191.2,721.6L197.0,717.3L202.7,713.2L208.3,709.2L213.8,705.5L219.3,702.0L224.7,698.6L229.9,695.5L235.0,692.7L240.0,690.0L244.7,687.6L249.4,685.5L253.8,683.6L258.0,682.0L262.0,680.6L265.8,679.5L269.4,678.7L272.7,678.2L275.8,678.0L278.6,678.0L281.1,678.3L283.4,678.9L285.4,679.7L287.1,680.9L288.5,682.3L289.6,683.9L290.4,685.9L290.9,688.1L291.1,690.5L291.0,693.2L290.6,696.1L289.9,699.3L288.9,702.6L287.6,706.2L286.0,710.0L284.1,714.0L282.0,718.1L279.5,722.4L276.8,726.9L273.9,731.5L270.6,736.3L267.2,741.2L263.5,746.1L259.5,751.2L255.4,756.3L251.0,761.6L246.5,766.8L241.7,772.1L236.8,777.4L231.8,782.7L226.6,788.1L221.3,793.3L215.9,798.6L210.3,803.8L204.7,808.9L199.1,814.0L193.3,818.9L187.6,823.8L181.8,828.5L176.0,833.1L170.3,837.6L164.5,841.9L158.8,846.0L153.2,849.9L147.7,853.7L142.2,857.2L136.8,860.5L131.6,863.6L126.5,866.5L121.5,869.1L116.7,871.5L112.1,873.7L107.7,875.6L103.5,877.2L99.5,878.5L95.7,879.6L92.1,880.4L88.8,880.9L85.7,881.2L82.9,881.2L80.4,880.9L78.1,880.3L76.1,879.4L74.4,878.3L73.0,876.9L71.9,875.2L71.1,873.3L70.6,871.1L70.4,868.7L70.5,866.0L70.9,863.0L71.6,859.9L72.6,856.5L73.9,853.0L75.5,849.2L77.4,845.2L79.5,841.0L82.0,836.7L84.7,832.2L87.6,827.6L90.9,822.9L94.3,818.0L98.0,813.0L102.0,808.0L106.1,802.8L110.5,797.6L115.0,792.3L119.8,787.0L124.7,781.7L129.7,776.4Z" fill="rgba(178,178,178,0.19)"/></g>
<g clip-path="url(#c21)"><circle class="p1" cx="324.8" cy="785.7" r="3.3"/><circle class="p1" cx="341.3" cy="773.8" r="3.3"/><circle class="p1" cx="341.3" cy="762.0" r="3.3"/><circle class="p2" cx="341.3" cy="750.2" r="3.3"/><circle class="p0" cx="349.6" cy="837.8" r="3.3"/><circle class="p1" cx="349.6" cy="790.4" r="3.3"/><circle class="p1" cx="349.6" cy="773.8" r="3.3"/><circle class="p1" cx="349.6" cy="764.4" r="3.3"/><circle class="p1" cx="357.9" cy="790.4" r="3.3"/><circle class="p1" cx="357.9" cy="780.9" r="3.3"/><circle class="p1" cx="357.9" cy="778.6" r="3.3"/><circle class="p1" cx="366.1" cy="797.5" r="3.3"/><circle class="p1" cx="366.1" cy="776.2" r="3.3"/><circle class="p1" cx="366.1" cy="773.8" r="3.3"/><circle class="p2" cx="366.1" cy="762.0" r="3.3"/><circle class="p1" cx="366.1" cy="752.5" r="3.3"/><circle class="p2" cx="366.1" cy="750.2" r="3.3"/><circle class="p2" cx="366.1" cy="750.2" r="3.3"/><circle class="p2" cx="366.1" cy="731.2" r="3.3"/><circle class="p1" cx="374.4" cy="785.7" r="3.3"/><circle class="p1" cx="374.4" cy="773.8" r="3.3"/><circle class="p1" cx="374.4" cy="764.4" r="3.3"/><circle class="p2" cx="374.4" cy="735.9" r="3.3"/><circle class="p2" cx="374.4" cy="705.2" r="3.3"/><circle class="p1" cx="382.6" cy="776.2" r="3.3"/><circle class="p1" cx="382.6" cy="776.2" r="3.3"/><circle class="p1" cx="382.6" cy="771.5" r="3.3"/><circle class="p1" cx="382.6" cy="769.1" r="3.3"/><circle class="p2" cx="382.6" cy="752.5" r="3.3"/><circle class="p1" cx="382.6" cy="747.8" r="3.3"/><circle class="p2" cx="382.6" cy="747.8" r="3.3"/><circle class="p2" cx="382.6" cy="747.8" r="3.3"/><circle class="p2" cx="382.6" cy="743.0" r="3.3"/><circle class="p1" cx="390.9" cy="773.8" r="3.3"/><circle class="p1" cx="390.9" cy="771.5" r="3.3"/><circle class="p1" cx="390.9" cy="762.0" r="3.3"/><circle class="p1" cx="390.9" cy="759.6" r="3.3"/><circle class="p1" cx="390.9" cy="757.3" r="3.3"/><circle class="p1" cx="390.9" cy="754.9" r="3.3"/><circle class="p2" cx="390.9" cy="754.9" r="3.3"/><circle class="p2" cx="390.9" cy="752.5" r="3.3"/><circle class="p2" cx="390.9" cy="747.8" r="3.3"/><circle class="p2" cx="390.9" cy="747.8" r="3.3"/><circle class="p2" cx="390.9" cy="735.9" r="3.3"/><circle class="p2" cx="390.9" cy="735.9" r="3.3"/><circle class="p2" cx="390.9" cy="724.1" r="3.3"/><circle class="p2" cx="390.9" cy="709.9" r="3.3"/><circle class="p0" cx="399.2" cy="835.4" r="3.3"/><circle class="p1" cx="399.2" cy="783.3" r="3.3"/><circle class="p1" cx="399.2" cy="769.1" r="3.3"/><circle class="p1" cx="399.2" cy="766.7" r="3.3"/><circle class="p1" cx="399.2" cy="766.7" r="3.3"/><circle class="p1" cx="399.2" cy="762.0" r="3.3"/><circle class="p1" cx="399.2" cy="759.6" r="3.3"/><circle class="p1" cx="399.2" cy="757.3" r="3.3"/><circle class="p2" cx="399.2" cy="735.9" r="3.3"/><circle class="p2" cx="399.2" cy="719.4" r="3.3"/><circle class="p0" cx="407.4" cy="842.5" r="3.3"/><circle class="p0" cx="407.4" cy="837.8" r="3.3"/><circle class="p0" cx="407.4" cy="835.4" r="3.3"/><circle class="p0" cx="407.4" cy="835.4" r="3.3"/><circle class="p0" cx="407.4" cy="835.4" r="3.3"/><circle class="p0" cx="407.4" cy="830.7" r="3.3"/><circle class="p1" cx="407.4" cy="771.5" r="3.3"/><circle class="p1" cx="407.4" cy="769.1" r="3.3"/><circle class="p1" cx="407.4" cy="769.1" r="3.3"/><circle class="p1" cx="407.4" cy="764.4" r="3.3"/><circle class="p1" cx="407.4" cy="762.0" r="3.3"/><circle class="p1" cx="407.4" cy="762.0" r="3.3"/><circle class="p1" cx="407.4" cy="759.6" r="3.3"/><circle class="p2" cx="407.4" cy="754.9" r="3.3"/><circle class="p2" cx="407.4" cy="752.5" r="3.3"/><circle class="p1" cx="407.4" cy="750.2" r="3.3"/><circle class="p2" cx="407.4" cy="747.8" r="3.3"/><circle class="p2" cx="407.4" cy="745.4" r="3.3"/><circle class="p2" cx="407.4" cy="745.4" r="3.3"/><circle class="p2" cx="407.4" cy="738.3" r="3.3"/><circle class="p2" cx="407.4" cy="738.3" r="3.3"/><circle class="p2" cx="407.4" cy="731.2" r="3.3"/><circle class="p2" cx="407.4" cy="731.2" r="3.3"/><circle class="p2" cx="407.4" cy="728.8" r="3.3"/><circle class="p2" cx="407.4" cy="724.1" r="3.3"/><circle class="p2" cx="407.4" cy="712.3" r="3.3"/><circle class="p0" cx="415.7" cy="833.1" r="3.3"/><circle class="p0" cx="415.7" cy="833.1" r="3.3"/><circle class="p0" cx="415.7" cy="833.1" r="3.3"/><circle class="p0" cx="415.7" cy="830.7" r="3.3"/><circle class="p1" cx="415.7" cy="764.4" r="3.3"/><circle class="p1" cx="415.7" cy="757.3" r="3.3"/><circle class="p1" cx="415.7" cy="752.5" r="3.3"/><circle class="p2" cx="415.7" cy="747.8" r="3.3"/><circle class="p2" cx="415.7" cy="740.7" r="3.3"/><circle class="p2" cx="415.7" cy="738.3" r="3.3"/><circle class="p2" cx="415.7" cy="735.9" r="3.3"/><circle class="p0" cx="423.9" cy="840.2" r="3.3"/><circle class="p0" cx="423.9" cy="837.8" r="3.3"/><circle class="p0" cx="423.9" cy="837.8" r="3.3"/><circle class="p0" cx="423.9" cy="835.4" r="3.3"/><circle class="p0" cx="423.9" cy="830.7" r="3.3"/><circle class="p1" cx="423.9" cy="762.0" r="3.3"/><circle class="p1" cx="423.9" cy="757.3" r="3.3"/><circle class="p1" cx="423.9" cy="754.9" r="3.3"/><circle class="p2" cx="423.9" cy="747.8" r="3.3"/><circle class="p2" cx="423.9" cy="743.0" r="3.3"/><circle class="p2" cx="423.9" cy="733.6" r="3.3"/><circle class="p2" cx="423.9" cy="728.8" r="3.3"/><circle class="p2" cx="423.9" cy="726.5" r="3.3"/><circle class="p0" cx="432.2" cy="835.4" r="3.3"/><circle class="p0" cx="432.2" cy="828.3" r="3.3"/><circle class="p1" cx="432.2" cy="757.3" r="3.3"/><circle class="p2" cx="432.2" cy="733.6" r="3.3"/><circle class="p2" cx="432.2" cy="733.6" r="3.3"/><circle class="p2" cx="432.2" cy="726.5" r="3.3"/><circle class="p0" cx="440.5" cy="835.4" r="3.3"/><circle class="p0" cx="440.5" cy="835.4" r="3.3"/><circle class="p0" cx="440.5" cy="833.1" r="3.3"/><circle class="p0" cx="440.5" cy="833.1" r="3.3"/><circle class="p0" cx="440.5" cy="833.1" r="3.3"/><circle class="p0" cx="440.5" cy="830.7" r="3.3"/><circle class="p0" cx="440.5" cy="830.7" r="3.3"/><circle class="p0" cx="440.5" cy="828.3" r="3.3"/><circle class="p0" cx="440.5" cy="823.6" r="3.3"/><circle class="p1" cx="440.5" cy="762.0" r="3.3"/><circle class="p2" cx="440.5" cy="740.7" r="3.3"/><circle class="p2" cx="440.5" cy="735.9" r="3.3"/><circle class="p0" cx="448.7" cy="837.8" r="3.3"/><circle class="p0" cx="448.7" cy="837.8" r="3.3"/><circle class="p0" cx="448.7" cy="835.4" r="3.3"/><circle class="p0" cx="448.7" cy="835.4" r="3.3"/><circle class="p0" cx="448.7" cy="833.1" r="3.3"/><circle class="p0" cx="448.7" cy="830.7" r="3.3"/><circle class="p0" cx="457.0" cy="844.9" r="3.3"/><circle class="p0" cx="457.0" cy="835.4" r="3.3"/><circle class="p0" cx="457.0" cy="835.4" r="3.3"/><circle class="p2" cx="457.0" cy="724.1" r="3.3"/><circle class="p0" cx="465.2" cy="833.1" r="3.3"/><circle class="p0" cx="465.2" cy="833.1" r="3.3"/><circle class="p0" cx="465.2" cy="833.1" r="3.3"/><circle class="p0" cx="473.5" cy="833.1" r="3.3"/><circle class="p0" cx="473.5" cy="830.7" r="3.3"/><circle class="p0" cx="473.5" cy="828.3" r="3.3"/><circle class="p0" cx="473.5" cy="823.6" r="3.3"/><circle class="p2" cx="473.5" cy="717.0" r="3.3"/><circle class="p2" cx="473.5" cy="709.9" r="3.3"/><circle class="p0" cx="481.8" cy="837.8" r="3.3"/><circle class="p0" cx="481.8" cy="828.3" r="3.3"/><circle class="p0" cx="490.0" cy="840.2" r="3.3"/><circle class="p0" cx="498.3" cy="833.1" r="3.3"/><circle class="p0" cx="506.5" cy="835.4" r="3.3"/><circle class="p0" cx="523.0" cy="833.1" r="3.3"/><path d="M334.0,782.1L332.1,776.7L330.3,771.4L328.8,766.1L327.5,760.9L326.5,755.7L325.7,750.5L325.1,745.5L324.8,740.5L324.6,735.7L324.8,730.9L325.2,726.3L325.8,721.9L326.6,717.6L327.7,713.4L329.0,709.5L330.6,705.7L332.4,702.2L334.3,698.8L336.5,695.7L339.0,692.8L341.6,690.2L344.4,687.8L347.4,685.6L350.5,683.7L353.9,682.1L357.4,680.7L361.0,679.6L364.8,678.8L368.7,678.2L372.7,678.0L376.9,678.0L381.1,678.3L385.4,678.8L389.8,679.7L394.3,680.8L398.8,682.2L403.3,683.8L407.9,685.7L412.5,687.9L417.1,690.3L421.6,693.0L426.2,695.9L430.7,699.0L435.1,702.4L439.5,706.0L443.8,709.7L448.1,713.7L452.2,717.8L456.2,722.1L460.1,726.6L463.9,731.2L467.5,736.0L471.0,740.8L474.3,745.8L477.4,750.9L480.4,756.0L483.1,761.2L485.7,766.5L488.1,771.8L490.3,777.1L492.2,782.4L494.0,787.7L495.5,793.0L496.8,798.3L497.8,803.5L498.6,808.6L499.2,813.7L499.6,818.6L499.7,823.5L499.5,828.2L499.1,832.8L498.5,837.3L497.7,841.6L496.6,845.7L495.3,849.7L493.7,853.4L491.9,857.0L490.0,860.3L487.8,863.4L485.3,866.3L482.7,869.0L479.9,871.4L476.9,873.5L473.8,875.4L470.4,877.1L467.0,878.4L463.3,879.5L459.5,880.4L455.6,880.9L451.6,881.2L447.4,881.2L443.2,880.9L438.9,880.3L434.5,879.5L430.0,878.4L425.5,877.0L421.0,875.3L416.4,873.4L411.8,871.2L407.2,868.8L402.7,866.1L398.1,863.2L393.6,860.1L389.2,856.8L384.8,853.2L380.5,849.4L376.2,845.5L372.1,841.3L368.1,837.0L364.2,832.5L360.4,827.9L356.8,823.2L353.3,818.3L350.0,813.3L346.9,808.3L343.9,803.1L341.2,797.9L338.6,792.7L336.2,787.4Z" fill="rgba(178,178,178,0.19)"/></g>
<g clip-path="url(#c23)"><circle class="p0" cx="784.1" cy="842.5" r="3.3"/><circle class="p0" cx="784.1" cy="835.4" r="3.3"/><circle class="p0" cx="784.1" cy="835.4" r="3.3"/><circle class="p0" cx="784.1" cy="833.1" r="3.3"/><circle class="p0" cx="784.1" cy="833.1" r="3.3"/><circle class="p0" cx="792.3" cy="844.9" r="3.3"/><circle class="p0" cx="792.3" cy="840.2" r="3.3"/><circle class="p0" cx="792.3" cy="840.2" r="3.3"/><circle class="p0" cx="792.3" cy="837.8" r="3.3"/><circle class="p0" cx="792.3" cy="837.8" r="3.3"/><circle class="p0" cx="792.3" cy="837.8" r="3.3"/><circle class="p0" cx="792.3" cy="837.8" r="3.3"/><circle class="p0" cx="792.3" cy="835.4" r="3.3"/><circle class="p0" cx="792.3" cy="835.4" r="3.3"/><circle class="p0" cx="792.3" cy="835.4" r="3.3"/><circle class="p0" cx="792.3" cy="835.4" r="3.3"/><circle class="p0" cx="792.3" cy="835.4" r="3.3"/><circle class="p0" cx="792.3" cy="835.4" r="3.3"/><circle class="p0" cx="792.3" cy="835.4" r="3.3"/><circle class="p0" cx="792.3" cy="835.4" r="3.3"/><circle class="p0" cx="792.3" cy="833.1" r="3.3"/><circle class="p0" cx="792.3" cy="833.1" r="3.3"/><circle class="p0" cx="792.3" cy="833.1" r="3.3"/><circle class="p0" cx="792.3" cy="833.1" r="3.3"/><circle class="p0" cx="792.3" cy="833.1" r="3.3"/><circle class="p0" cx="792.3" cy="833.1" r="3.3"/><circle class="p0" cx="792.3" cy="833.1" r="3.3"/><circle class="p0" cx="792.3" cy="830.7" r="3.3"/><circle class="p0" cx="792.3" cy="830.7" r="3.3"/><circle class="p0" cx="792.3" cy="830.7" r="3.3"/><circle class="p0" cx="792.3" cy="830.7" r="3.3"/><circle class="p0" cx="792.3" cy="830.7" r="3.3"/><circle class="p0" cx="792.3" cy="828.3" r="3.3"/><circle class="p0" cx="792.3" cy="823.6" r="3.3"/><circle class="p0" cx="800.6" cy="837.8" r="3.3"/><circle class="p0" cx="800.6" cy="837.8" r="3.3"/><circle class="p0" cx="800.6" cy="835.4" r="3.3"/><circle class="p0" cx="800.6" cy="835.4" r="3.3"/><circle class="p0" cx="800.6" cy="835.4" r="3.3"/><circle class="p0" cx="800.6" cy="833.1" r="3.3"/><circle class="p0" cx="800.6" cy="828.3" r="3.3"/><circle class="p0" cx="808.8" cy="837.8" r="3.3"/><circle class="p0" cx="808.8" cy="833.1" r="3.3"/><circle class="p0" cx="808.8" cy="833.1" r="3.3"/><circle class="p0" cx="808.8" cy="833.1" r="3.3"/><circle class="p0" cx="808.8" cy="830.7" r="3.3"/><circle class="p0" cx="808.8" cy="828.3" r="3.3"/><circle class="p0" cx="808.8" cy="823.6" r="3.3"/><circle class="p0" cx="817.1" cy="828.3" r="3.3"/><circle class="p0" cx="825.3" cy="830.7" r="3.3"/><circle class="p1" cx="858.3" cy="790.4" r="3.3"/><circle class="p1" cx="858.3" cy="790.4" r="3.3"/><circle class="p1" cx="858.3" cy="785.7" r="3.3"/><circle class="p1" cx="858.3" cy="785.7" r="3.3"/><circle class="p1" cx="858.3" cy="780.9" r="3.3"/><circle class="p1" cx="858.3" cy="773.8" r="3.3"/><circle class="p1" cx="858.3" cy="771.5" r="3.3"/><circle class="p1" cx="866.6" cy="797.5" r="3.3"/><circle class="p1" cx="866.6" cy="778.6" r="3.3"/><circle class="p1" cx="866.6" cy="776.2" r="3.3"/><circle class="p1" cx="874.8" cy="776.2" r="3.3"/><circle class="p1" cx="874.8" cy="773.8" r="3.3"/><circle class="p1" cx="874.8" cy="769.1" r="3.3"/><circle class="p1" cx="874.8" cy="764.4" r="3.3"/><circle class="p1" cx="874.8" cy="757.3" r="3.3"/><circle class="p1" cx="883.1" cy="783.3" r="3.3"/><circle class="p1" cx="883.1" cy="773.8" r="3.3"/><circle class="p1" cx="883.1" cy="773.8" r="3.3"/><circle class="p1" cx="883.1" cy="773.8" r="3.3"/><circle class="p1" cx="883.1" cy="771.5" r="3.3"/><circle class="p1" cx="883.1" cy="771.5" r="3.3"/><circle class="p1" cx="883.1" cy="769.1" r="3.3"/><circle class="p1" cx="883.1" cy="769.1" r="3.3"/><circle class="p1" cx="883.1" cy="766.7" r="3.3"/><circle class="p1" cx="883.1" cy="766.7" r="3.3"/><circle class="p1" cx="883.1" cy="764.4" r="3.3"/><circle class="p1" cx="883.1" cy="762.0" r="3.3"/><circle class="p1" cx="883.1" cy="759.6" r="3.3"/><circle class="p1" cx="891.3" cy="776.2" r="3.3"/><circle class="p1" cx="891.3" cy="764.4" r="3.3"/><circle class="p1" cx="891.3" cy="764.4" r="3.3"/><circle class="p1" cx="891.3" cy="759.6" r="3.3"/><circle class="p1" cx="891.3" cy="757.3" r="3.3"/><circle class="p1" cx="891.3" cy="757.3" r="3.3"/><circle class="p1" cx="891.3" cy="754.9" r="3.3"/><circle class="p2" cx="891.3" cy="735.9" r="3.3"/><circle class="p1" cx="899.6" cy="769.1" r="3.3"/><circle class="p1" cx="899.6" cy="762.0" r="3.3"/><circle class="p1" cx="899.6" cy="762.0" r="3.3"/><circle class="p1" cx="899.6" cy="762.0" r="3.3"/><circle class="p1" cx="899.6" cy="762.0" r="3.3"/><circle class="p1" cx="899.6" cy="762.0" r="3.3"/><circle class="p1" cx="899.6" cy="759.6" r="3.3"/><circle class="p1" cx="899.6" cy="757.3" r="3.3"/><circle class="p1" cx="899.6" cy="752.5" r="3.3"/><circle class="p1" cx="899.6" cy="752.5" r="3.3"/><circle class="p2" cx="899.6" cy="750.2" r="3.3"/><circle class="p2" cx="899.6" cy="747.8" r="3.3"/><circle class="p1" cx="907.8" cy="762.0" r="3.3"/><circle class="p1" cx="907.8" cy="757.3" r="3.3"/><circle class="p1" cx="907.8" cy="747.8" r="3.3"/><circle class="p2" cx="907.8" cy="731.2" r="3.3"/><circle class="p2" cx="916.1" cy="762.0" r="3.3"/><circle class="p1" cx="916.1" cy="750.2" r="3.3"/><circle class="p1" cx="924.4" cy="754.9" r="3.3"/><circle class="p2" cx="924.4" cy="754.9" r="3.3"/><circle class="p2" cx="924.4" cy="754.9" r="3.3"/><circle class="p2" cx="924.4" cy="752.5" r="3.3"/><circle class="p2" cx="924.4" cy="752.5" r="3.3"/><circle class="p2" cx="924.4" cy="747.8" r="3.3"/><circle class="p2" cx="924.4" cy="738.3" r="3.3"/><circle class="p2" cx="924.4" cy="738.3" r="3.3"/><circle class="p2" cx="924.4" cy="735.9" r="3.3"/><circle class="p2" cx="924.4" cy="731.2" r="3.3"/><circle class="p2" cx="924.4" cy="726.5" r="3.3"/><circle class="p2" cx="924.4" cy="719.4" r="3.3"/><circle class="p2" cx="932.6" cy="750.2" r="3.3"/><circle class="p2" cx="932.6" cy="747.8" r="3.3"/><circle class="p2" cx="932.6" cy="747.8" r="3.3"/><circle class="p2" cx="932.6" cy="743.0" r="3.3"/><circle class="p2" cx="932.6" cy="724.1" r="3.3"/><circle class="p2" cx="940.9" cy="752.5" r="3.3"/><circle class="p2" cx="940.9" cy="750.2" r="3.3"/><circle class="p2" cx="940.9" cy="747.8" r="3.3"/><circle class="p2" cx="940.9" cy="745.4" r="3.3"/><circle class="p2" cx="940.9" cy="717.0" r="3.3"/><circle class="p2" cx="940.9" cy="709.9" r="3.3"/><circle class="p2" cx="949.1" cy="740.7" r="3.3"/><circle class="p2" cx="949.1" cy="738.3" r="3.3"/><circle class="p2" cx="949.1" cy="735.9" r="3.3"/><circle class="p2" cx="949.1" cy="733.6" r="3.3"/><circle class="p2" cx="949.1" cy="728.8" r="3.3"/><circle class="p2" cx="949.1" cy="712.3" r="3.3"/><circle class="p2" cx="957.4" cy="735.9" r="3.3"/><circle class="p2" cx="957.4" cy="731.2" r="3.3"/><circle class="p2" cx="957.4" cy="709.9" r="3.3"/><circle class="p2" cx="965.6" cy="747.8" r="3.3"/><circle class="p2" cx="965.6" cy="745.4" r="3.3"/><circle class="p2" cx="965.6" cy="743.0" r="3.3"/><circle class="p2" cx="965.6" cy="740.7" r="3.3"/><circle class="p2" cx="965.6" cy="733.6" r="3.3"/><circle class="p2" cx="965.6" cy="728.8" r="3.3"/><circle class="p2" cx="965.6" cy="724.1" r="3.3"/><circle class="p2" cx="965.6" cy="705.2" r="3.3"/><circle class="p2" cx="973.9" cy="747.8" r="3.3"/><circle class="p2" cx="973.9" cy="735.9" r="3.3"/><circle class="p2" cx="973.9" cy="735.9" r="3.3"/><circle class="p2" cx="982.1" cy="733.6" r="3.3"/><circle class="p2" cx="982.1" cy="726.5" r="3.3"/><circle class="p2" cx="982.1" cy="724.1" r="3.3"/><path d="M839.7,775.3L847.5,770.0L855.4,764.7L863.4,759.5L871.4,754.3L879.4,749.2L887.4,744.2L895.3,739.2L903.2,734.4L911.1,729.7L918.8,725.1L926.4,720.7L933.9,716.5L941.2,712.4L948.3,708.5L955.2,704.8L961.9,701.3L968.3,698.0L974.5,694.9L980.5,692.1L986.1,689.5L991.4,687.2L996.5,685.1L1001.1,683.3L1005.5,681.7L1009.4,680.4L1013.0,679.4L1016.3,678.6L1019.1,678.1L1021.6,677.9L1023.6,678.0L1025.2,678.4L1026.5,679.0L1027.3,679.9L1027.6,681.1L1027.6,682.6L1027.2,684.3L1026.3,686.3L1025.0,688.5L1023.3,691.0L1021.2,693.8L1018.7,696.7L1015.8,699.9L1012.5,703.3L1008.9,706.9L1004.8,710.8L1000.4,714.8L995.7,719.0L990.7,723.3L985.3,727.8L979.6,732.5L973.6,737.3L967.4,742.1L960.9,747.1L954.2,752.2L947.2,757.4L940.1,762.6L932.7,767.9L925.2,773.2L917.6,778.5L909.9,783.8L902.0,789.1L894.1,794.4L886.2,799.6L878.2,804.8L870.2,810.0L862.2,815.0L854.2,819.9L846.3,824.8L838.5,829.5L830.8,834.0L823.2,838.4L815.7,842.7L808.4,846.8L801.3,850.7L794.4,854.4L787.7,857.9L781.2,861.2L775.0,864.2L769.1,867.1L763.5,869.6L758.1,872.0L753.1,874.1L748.4,875.9L744.1,877.5L740.1,878.8L736.5,879.8L733.3,880.5L730.4,881.0L728.0,881.2L726.0,881.1L724.3,880.8L723.1,880.1L722.3,879.2L721.9,878.0L721.9,876.6L722.4,874.8L723.3,872.9L724.6,870.6L726.2,868.1L728.3,865.4L730.9,862.4L733.8,859.2L737.0,855.8L740.7,852.2L744.7,848.4L749.1,844.4L753.8,840.2L758.9,835.8L764.3,831.3L770.0,826.7L775.9,821.9L782.2,817.0L788.7,812.0L795.4,806.9L802.4,801.8L809.5,796.5L816.8,791.3L824.3,786.0L831.9,780.7Z" fill="rgba(178,178,178,0.19)"/></g>
<g clip-path="url(#c30)"><circle class="p0" cx="96.1" cy="1006.9" r="3.3"/><circle class="p0" cx="101.6" cy="1001.0" r="3.3"/><circle class="p0" cx="101.6" cy="1001.0" r="3.3"/><circle class="p0" cx="101.6" cy="1001.0" r="3.3"/><circle class="p0" cx="107.1" cy="995.2" r="3.3"/><circle class="p0" cx="112.6" cy="1001.0" r="3.3"/><circle class="p0" cx="112.6" cy="1001.0" r="3.3"/><circle class="p0" cx="112.6" cy="1001.0" r="3.3"/><circle class="p0" cx="112.6" cy="995.2" r="3.3"/><circle class="p0" cx="118.1" cy="1001.0" r="3.3"/><circle class="p0" cx="118.1" cy="1001.0" r="3.3"/><circle class="p0" cx="123.5" cy="1006.9" r="3.3"/><circle class="p0" cx="123.5" cy="1001.0" r="3.3"/><circle class="p0" cx="123.5" cy="1001.0" r="3.3"/><circle class="p0" cx="123.5" cy="1001.0" r="3.3"/><circle class="p0" cx="123.5" cy="995.2" r="3.3"/><circle class="p0" cx="129.0" cy="1006.9" r="3.3"/><circle class="p0" cx="129.0" cy="1006.9" r="3.3"/><circle class="p0" cx="129.0" cy="1001.0" r="3.3"/><circle class="p0" cx="129.0" cy="1001.0" r="3.3"/><circle class="p1" cx="129.0" cy="954.4" r="3.3"/><circle class="p2" cx="129.0" cy="913.6" r="3.3"/><circle class="p0" cx="134.5" cy="1001.0" r="3.3"/><circle class="p0" cx="134.5" cy="1001.0" r="3.3"/><circle class="p0" cx="134.5" cy="1001.0" r="3.3"/><circle class="p0" cx="134.5" cy="1001.0" r="3.3"/><circle class="p0" cx="134.5" cy="1001.0" r="3.3"/><circle class="p0" cx="134.5" cy="995.2" r="3.3"/><circle class="p0" cx="134.5" cy="989.4" r="3.3"/><circle class="p0" cx="134.5" cy="977.7" r="3.3"/><circle class="p1" cx="134.5" cy="954.4" r="3.3"/><circle class="p1" cx="134.5" cy="954.4" r="3.3"/><circle class="p0" cx="140.0" cy="1001.0" r="3.3"/><circle class="p0" cx="140.0" cy="1001.0" r="3.3"/><circle class="p0" cx="140.0" cy="1001.0" r="3.3"/><circle class="p0" cx="140.0" cy="995.2" r="3.3"/><circle class="p0" cx="140.0" cy="995.2" r="3.3"/><circle class="p0" cx="140.0" cy="989.4" r="3.3"/><circle class="p0" cx="140.0" cy="989.4" r="3.3"/><circle class="p0" cx="140.0" cy="983.5" r="3.3"/><circle class="p1" cx="140.0" cy="948.6" r="3.3"/><circle class="p0" cx="145.5" cy="1006.9" r="3.3"/><circle class="p0" cx="145.5" cy="1001.0" r="3.3"/><circle class="p0" cx="145.5" cy="1001.0" r="3.3"/><circle class="p1" cx="145.5" cy="931.1" r="3.3"/><circle class="p0" cx="151.0" cy="1001.0" r="3.3"/><circle class="p0" cx="156.4" cy="1001.0" r="3.3"/><circle class="p0" cx="156.4" cy="1001.0" r="3.3"/><circle class="p0" cx="156.4" cy="989.4" r="3.3"/><circle class="p0" cx="156.4" cy="989.4" r="3.3"/><circle class="p0" cx="156.4" cy="989.4" r="3.3"/><circle class="p1" cx="156.4" cy="925.3" r="3.3"/><circle class="p0" cx="161.9" cy="1001.0" r="3.3"/><circle class="p0" cx="161.9" cy="1001.0" r="3.3"/><circle class="p1" cx="161.9" cy="954.4" r="3.3"/><circle class="p1" cx="161.9" cy="948.6" r="3.3"/><circle class="p1" cx="161.9" cy="942.7" r="3.3"/><circle class="p1" cx="161.9" cy="936.9" r="3.3"/><circle class="p1" cx="161.9" cy="936.9" r="3.3"/><circle class="p1" cx="167.4" cy="948.6" r="3.3"/><circle class="p1" cx="167.4" cy="936.9" r="3.3"/><circle class="p1" cx="167.4" cy="936.9" r="3.3"/><circle class="p1" cx="167.4" cy="936.9" r="3.3"/><circle class="p1" cx="167.4" cy="925.3" r="3.3"/><circle class="p2" cx="167.4" cy="896.1" r="3.3"/><circle class="p0" cx="172.9" cy="995.2" r="3.3"/><circle class="p0" cx="172.9" cy="989.4" r="3.3"/><circle class="p1" cx="172.9" cy="954.4" r="3.3"/><circle class="p1" cx="172.9" cy="942.7" r="3.3"/><circle class="p1" cx="172.9" cy="936.9" r="3.3"/><circle class="p1" cx="172.9" cy="936.9" r="3.3"/><circle class="p1" cx="172.9" cy="936.9" r="3.3"/><circle class="p2" cx="172.9" cy="896.1" r="3.3"/><circle class="p0" cx="178.4" cy="1001.0" r="3.3"/><circle class="p1" cx="178.4" cy="954.4" r="3.3"/><circle class="p1" cx="178.4" cy="942.7" r="3.3"/><circle class="p1" cx="178.4" cy="942.7" r="3.3"/><circle class="p2" cx="178.4" cy="901.9" r="3.3"/><circle class="p2" cx="178.4" cy="901.9" r="3.3"/><circle class="p2" cx="178.4" cy="872.8" r="3.3"/><circle class="p1" cx="183.9" cy="925.3" r="3.3"/><circle class="p2" cx="183.9" cy="907.8" r="3.3"/><circle class="p1" cx="183.9" cy="907.8" r="3.3"/><circle class="p1" cx="189.3" cy="954.4" r="3.3"/><circle class="p1" cx="189.3" cy="925.3" r="3.3"/><circle class="p2" cx="189.3" cy="925.3" r="3.3"/><circle class="p1" cx="189.3" cy="919.4" r="3.3"/><circle class="p1" cx="189.3" cy="919.4" r="3.3"/><circle class="p2" cx="189.3" cy="907.8" r="3.3"/><circle class="p1" cx="194.8" cy="942.7" r="3.3"/><circle class="p1" cx="194.8" cy="936.9" r="3.3"/><circle class="p1" cx="194.8" cy="931.1" r="3.3"/><circle class="p1" cx="194.8" cy="931.1" r="3.3"/><circle class="p2" cx="194.8" cy="931.1" r="3.3"/><circle class="p2" cx="194.8" cy="907.8" r="3.3"/><circle class="p1" cx="200.3" cy="936.9" r="3.3"/><circle class="p1" cx="200.3" cy="925.3" r="3.3"/><circle class="p2" cx="200.3" cy="907.8" r="3.3"/><circle class="p2" cx="200.3" cy="878.6" r="3.3"/><circle class="p1" cx="205.8" cy="936.9" r="3.3"/><circle class="p1" cx="205.8" cy="925.3" r="3.3"/><circle class="p2" cx="205.8" cy="925.3" r="3.3"/><circle class="p1" cx="205.8" cy="919.4" r="3.3"/><circle class="p2" cx="205.8" cy="907.8" r="3.3"/><circle class="p2" cx="205.8" cy="907.8" r="3.3"/><circle class="p2" cx="205.8" cy="901.9" r="3.3"/><circle class="p2" cx="205.8" cy="872.8" r="3.3"/><circle class="p2" cx="205.8" cy="867.0" r="3.3"/><circle class="p1" cx="211.3" cy="936.9" r="3.3"/><circle class="p1" cx="211.3" cy="925.3" r="3.3"/><circle class="p2" cx="211.3" cy="907.8" r="3.3"/><circle class="p2" cx="211.3" cy="901.9" r="3.3"/><circle class="p2" cx="211.3" cy="890.3" r="3.3"/><circle class="p2" cx="211.3" cy="884.5" r="3.3"/><circle class="p2" cx="211.3" cy="878.6" r="3.3"/><circle class="p1" cx="216.7" cy="925.3" r="3.3"/><circle class="p2" cx="216.7" cy="907.8" r="3.3"/><circle class="p2" cx="216.7" cy="896.1" r="3.3"/><circle class="p2" cx="216.7" cy="896.1" r="3.3"/><circle class="p2" cx="216.7" cy="884.5" r="3.3"/><circle class="p1" cx="222.2" cy="936.9" r="3.3"/><circle class="p1" cx="222.2" cy="931.1" r="3.3"/><circle class="p1" cx="227.7" cy="931.1" r="3.3"/><circle class="p1" cx="227.7" cy="925.3" r="3.3"/><circle class="p1" cx="227.7" cy="913.6" r="3.3"/><circle class="p2" cx="227.7" cy="907.8" r="3.3"/><circle class="p2" cx="227.7" cy="890.3" r="3.3"/><circle class="p2" cx="227.7" cy="878.6" r="3.3"/><circle class="p2" cx="227.7" cy="872.8" r="3.3"/><circle class="p2" cx="227.7" cy="867.0" r="3.3"/><circle class="p1" cx="233.2" cy="931.1" r="3.3"/><circle class="p2" cx="233.2" cy="890.3" r="3.3"/><circle class="p2" cx="233.2" cy="878.6" r="3.3"/><circle class="p1" cx="238.7" cy="925.3" r="3.3"/><circle class="p2" cx="238.7" cy="890.3" r="3.3"/><circle class="p2" cx="238.7" cy="878.6" r="3.3"/><circle class="p2" cx="238.7" cy="878.6" r="3.3"/><circle class="p1" cx="244.2" cy="931.1" r="3.3"/><circle class="p2" cx="249.6" cy="890.3" r="3.3"/><circle class="p2" cx="255.1" cy="919.4" r="3.3"/><circle class="p2" cx="255.1" cy="907.8" r="3.3"/><circle class="p2" cx="255.1" cy="867.0" r="3.3"/><circle class="p2" cx="260.6" cy="907.8" r="3.3"/><circle class="p2" cx="266.1" cy="901.9" r="3.3"/><circle class="p2" cx="277.1" cy="890.3" r="3.3"/><circle class="p2" cx="282.5" cy="896.1" r="3.3"/><circle class="p2" cx="282.5" cy="884.5" r="3.3"/><circle class="p2" cx="282.5" cy="878.6" r="3.3"/><circle class="p2" cx="282.5" cy="878.6" r="3.3"/><circle class="p2" cx="293.5" cy="896.1" r="3.3"/><path d="M211.0,978.3L205.4,983.6L199.7,988.8L194.0,993.9L188.2,998.8L182.5,1003.5L176.7,1008.1L170.9,1012.5L165.2,1016.7L159.5,1020.8L153.9,1024.6L148.3,1028.1L142.8,1031.5L137.4,1034.6L132.2,1037.4L127.1,1040.0L122.1,1042.3L117.3,1044.4L112.7,1046.2L108.2,1047.7L104.0,1048.9L99.9,1049.8L96.1,1050.4L92.5,1050.7L89.2,1050.7L86.1,1050.5L83.2,1049.9L80.7,1049.1L78.4,1047.9L76.3,1046.5L74.6,1044.7L73.2,1042.7L72.0,1040.5L71.2,1037.9L70.7,1035.1L70.4,1032.1L70.5,1028.8L70.8,1025.2L71.5,1021.5L72.5,1017.5L73.7,1013.3L75.3,1008.9L77.1,1004.4L79.3,999.6L81.7,994.8L84.3,989.7L87.3,984.6L90.5,979.3L93.9,974.0L97.6,968.5L101.5,963.0L105.6,957.4L110.0,951.8L114.5,946.1L119.2,940.5L124.1,934.8L129.1,929.2L134.3,923.6L139.6,918.1L145.0,912.6L150.5,907.2L156.1,901.9L161.8,896.8L167.5,891.7L173.2,886.8L179.0,882.0L184.8,877.5L190.6,873.0L196.3,868.8L202.0,864.8L207.6,861.0L213.2,857.4L218.7,854.1L224.0,851.0L229.3,848.1L234.4,845.5L239.4,843.2L244.2,841.2L248.8,839.4L253.3,837.9L257.5,836.7L261.6,835.8L265.4,835.2L269.0,834.8L272.3,834.8L275.4,835.1L278.3,835.7L280.8,836.5L283.1,837.7L285.1,839.1L286.9,840.8L288.3,842.8L289.4,845.1L290.3,847.6L290.8,850.4L291.1,853.5L291.0,856.8L290.7,860.3L290.0,864.1L289.0,868.1L287.8,872.3L286.2,876.6L284.4,881.2L282.2,885.9L279.8,890.8L277.2,895.8L274.2,901.0L271.0,906.2L267.6,911.6L263.9,917.1L260.0,922.6L255.9,928.2L251.5,933.8L247.0,939.4L242.3,945.1L237.4,950.7L232.4,956.4L227.2,961.9L221.9,967.5L216.5,973.0Z" fill="rgba(178,178,178,0.19)"/></g>
<g clip-path="url(#c31)"><circle class="p1" cx="324.8" cy="954.4" r="3.3"/><circle class="p1" cx="341.3" cy="954.4" r="3.3"/><circle class="p1" cx="341.3" cy="925.3" r="3.3"/><circle class="p2" cx="341.3" cy="925.3" r="3.3"/><circle class="p0" cx="349.6" cy="995.2" r="3.3"/><circle class="p1" cx="349.6" cy="954.4" r="3.3"/><circle class="p1" cx="349.6" cy="936.9" r="3.3"/><circle class="p1" cx="349.6" cy="936.9" r="3.3"/><circle class="p1" cx="357.9" cy="954.4" r="3.3"/><circle class="p1" cx="357.9" cy="954.4" r="3.3"/><circle class="p1" cx="357.9" cy="948.6" r="3.3"/><circle class="p1" cx="366.1" cy="948.6" r="3.3"/><circle class="p1" cx="366.1" cy="948.6" r="3.3"/><circle class="p1" cx="366.1" cy="936.9" r="3.3"/><circle class="p1" cx="366.1" cy="925.3" r="3.3"/><circle class="p2" cx="366.1" cy="913.6" r="3.3"/><circle class="p2" cx="366.1" cy="907.8" r="3.3"/><circle class="p2" cx="366.1" cy="901.9" r="3.3"/><circle class="p2" cx="366.1" cy="896.1" r="3.3"/><circle class="p1" cx="374.4" cy="954.4" r="3.3"/><circle class="p1" cx="374.4" cy="942.7" r="3.3"/><circle class="p1" cx="374.4" cy="942.7" r="3.3"/><circle class="p2" cx="374.4" cy="931.1" r="3.3"/><circle class="p2" cx="374.4" cy="878.6" r="3.3"/><circle class="p1" cx="382.6" cy="954.4" r="3.3"/><circle class="p1" cx="382.6" cy="942.7" r="3.3"/><circle class="p1" cx="382.6" cy="936.9" r="3.3"/><circle class="p1" cx="382.6" cy="931.1" r="3.3"/><circle class="p1" cx="382.6" cy="919.4" r="3.3"/><circle class="p2" cx="382.6" cy="907.8" r="3.3"/><circle class="p2" cx="382.6" cy="901.9" r="3.3"/><circle class="p2" cx="382.6" cy="901.9" r="3.3"/><circle class="p2" cx="382.6" cy="901.9" r="3.3"/><circle class="p1" cx="390.9" cy="942.7" r="3.3"/><circle class="p1" cx="390.9" cy="936.9" r="3.3"/><circle class="p1" cx="390.9" cy="936.9" r="3.3"/><circle class="p1" cx="390.9" cy="936.9" r="3.3"/><circle class="p1" cx="390.9" cy="931.1" r="3.3"/><circle class="p1" cx="390.9" cy="925.3" r="3.3"/><circle class="p2" cx="390.9" cy="925.3" r="3.3"/><circle class="p2" cx="390.9" cy="907.8" r="3.3"/><circle class="p2" cx="390.9" cy="901.9" r="3.3"/><circle class="p2" cx="390.9" cy="896.1" r="3.3"/><circle class="p2" cx="390.9" cy="896.1" r="3.3"/><circle class="p2" cx="390.9" cy="890.3" r="3.3"/><circle class="p2" cx="390.9" cy="884.5" r="3.3"/><circle class="p2" cx="390.9" cy="872.8" r="3.3"/><circle class="p0" cx="399.2" cy="1001.0" r="3.3"/><circle class="p1" cx="399.2" cy="936.9" r="3.3"/><circle class="p1" cx="399.2" cy="936.9" r="3.3"/><circle class="p1" cx="399.2" cy="936.9" r="3.3"/><circle class="p1" cx="399.2" cy="936.9" r="3.3"/><circle class="p1" cx="399.2" cy="936.9" r="3.3"/><circle class="p1" cx="399.2" cy="931.1" r="3.3"/><circle class="p1" cx="399.2" cy="925.3" r="3.3"/><circle class="p2" cx="399.2" cy="907.8" r="3.3"/><circle class="p2" cx="399.2" cy="907.8" r="3.3"/><circle class="p0" cx="407.4" cy="1006.9" r="3.3"/><circle class="p0" cx="407.4" cy="1006.9" r="3.3"/><circle class="p0" cx="407.4" cy="1001.0" r="3.3"/><circle class="p0" cx="407.4" cy="1001.0" r="3.3"/><circle class="p0" cx="407.4" cy="1001.0" r="3.3"/><circle class="p0" cx="407.4" cy="995.2" r="3.3"/><circle class="p1" cx="407.4" cy="942.7" r="3.3"/><circle class="p1" cx="407.4" cy="936.9" r="3.3"/><circle class="p1" cx="407.4" cy="931.1" r="3.3"/><circle class="p1" cx="407.4" cy="931.1" r="3.3"/><circle class="p1" cx="407.4" cy="925.3" r="3.3"/><circle class="p1" cx="407.4" cy="925.3" r="3.3"/><circle class="p1" cx="407.4" cy="925.3" r="3.3"/><circle class="p2" cx="407.4" cy="919.4" r="3.3"/><circle class="p1" cx="407.4" cy="913.6" r="3.3"/><circle class="p2" cx="407.4" cy="907.8" r="3.3"/><circle class="p2" cx="407.4" cy="907.8" r="3.3"/><circle class="p2" cx="407.4" cy="907.8" r="3.3"/><circle class="p2" cx="407.4" cy="907.8" r="3.3"/><circle class="p2" cx="407.4" cy="896.1" r="3.3"/><circle class="p2" cx="407.4" cy="890.3" r="3.3"/><circle class="p2" cx="407.4" cy="890.3" r="3.3"/><circle class="p2" cx="407.4" cy="890.3" r="3.3"/><circle class="p2" cx="407.4" cy="884.5" r="3.3"/><circle class="p2" cx="407.4" cy="878.6" r="3.3"/><circle class="p2" cx="407.4" cy="878.6" r="3.3"/><circle class="p0" cx="415.7" cy="1006.9" r="3.3"/><circle class="p0" cx="415.7" cy="1001.0" r="3.3"/><circle class="p0" cx="415.7" cy="1001.0" r="3.3"/><circle class="p0" cx="415.7" cy="1001.0" r="3.3"/><circle class="p1" cx="415.7" cy="931.1" r="3.3"/><circle class="p1" cx="415.7" cy="925.3" r="3.3"/><circle class="p1" cx="415.7" cy="925.3" r="3.3"/><circle class="p2" cx="415.7" cy="907.8" r="3.3"/><circle class="p2" cx="415.7" cy="890.3" r="3.3"/><circle class="p2" cx="415.7" cy="878.6" r="3.3"/><circle class="p2" cx="415.7" cy="872.8" r="3.3"/><circle class="p0" cx="423.9" cy="1001.0" r="3.3"/><circle class="p0" cx="423.9" cy="1001.0" r="3.3"/><circle class="p0" cx="423.9" cy="1001.0" r="3.3"/><circle class="p0" cx="423.9" cy="1001.0" r="3.3"/><circle class="p0" cx="423.9" cy="1001.0" r="3.3"/><circle class="p1" cx="423.9" cy="931.1" r="3.3"/><circle class="p1" cx="423.9" cy="925.3" r="3.3"/><circle class="p1" cx="423.9" cy="907.8" r="3.3"/><circle class="p2" cx="423.9" cy="907.8" r="3.3"/><circle class="p2" cx="423.9" cy="896.1" r="3.3"/><circle class="p2" cx="423.9" cy="878.6" r="3.3"/><circle class="p2" cx="423.9" cy="878.6" r="3.3"/><circle class="p2" cx="423.9" cy="878.6" r="3.3"/><circle class="p0" cx="432.2" cy="1001.0" r="3.3"/><circle class="p0" cx="432.2" cy="983.5" r="3.3"/><circle class="p1" cx="432.2" cy="919.4" r="3.3"/><circle class="p2" cx="432.2" cy="890.3" r="3.3"/><circle class="p2" cx="432.2" cy="867.0" r="3.3"/><circle class="p2" cx="432.2" cy="867.0" r="3.3"/><circle class="p0" cx="440.5" cy="1001.0" r="3.3"/><circle class="p0" cx="440.5" cy="1001.0" r="3.3"/><circle class="p0" cx="440.5" cy="1001.0" r="3.3"/><circle class="p0" cx="440.5" cy="1001.0" r="3.3"/><circle class="p0" cx="440.5" cy="1001.0" r="3.3"/><circle class="p0" cx="440.5" cy="1001.0" r="3.3"/><circle class="p0" cx="440.5" cy="995.2" r="3.3"/><circle class="p0" cx="440.5" cy="989.4" r="3.3"/><circle class="p0" cx="440.5" cy="989.4" r="3.3"/><circle class="p1" cx="440.5" cy="919.4" r="3.3"/><circle class="p2" cx="440.5" cy="878.6" r="3.3"/><circle class="p2" cx="440.5" cy="872.8" r="3.3"/><circle class="p0" cx="448.7" cy="1001.0" r="3.3"/><circle class="p0" cx="448.7" cy="1001.0" r="3.3"/><circle class="p0" cx="448.7" cy="1001.0" r="3.3"/><circle class="p0" cx="448.7" cy="995.2" r="3.3"/><circle class="p0" cx="448.7" cy="995.2" r="3.3"/><circle class="p0" cx="448.7" cy="977.7" r="3.3"/><circle class="p0" cx="457.0" cy="1006.9" r="3.3"/><circle class="p0" cx="457.0" cy="1001.0" r="3.3"/><circle class="p0" cx="457.0" cy="1001.0" r="3.3"/><circle class="p2" cx="457.0" cy="867.0" r="3.3"/><circle class="p0" cx="465.2" cy="1001.0" r="3.3"/><circle class="p0" cx="465.2" cy="1001.0" r="3.3"/><circle class="p0" cx="465.2" cy="989.4" r="3.3"/><circle class="p0" cx="473.5" cy="1001.0" r="3.3"/><circle class="p0" cx="473.5" cy="995.2" r="3.3"/><circle class="p0" cx="473.5" cy="995.2" r="3.3"/><circle class="p0" cx="473.5" cy="989.4" r="3.3"/><circle class="p2" cx="473.5" cy="896.1" r="3.3"/><circle class="p2" cx="473.5" cy="884.5" r="3.3"/><circle class="p0" cx="481.8" cy="989.4" r="3.3"/><circle class="p0" cx="481.8" cy="989.4" r="3.3"/><circle class="p0" cx="490.0" cy="1001.0" r="3.3"/><circle class="p0" cx="498.3" cy="1006.9" r="3.3"/><circle class="p0" cx="506.5" cy="1001.0" r="3.3"/><circle class="p0" cx="523.0" cy="989.4" r="3.3"/><path d="M336.1,958.1L333.9,952.5L332.0,946.9L330.3,941.2L328.8,935.6L327.5,929.9L326.4,924.3L325.6,918.8L325.1,913.3L324.7,907.9L324.7,902.6L324.8,897.4L325.2,892.4L325.8,887.4L326.7,882.7L327.8,878.0L329.1,873.6L330.7,869.4L332.4,865.3L334.4,861.5L336.6,857.9L339.1,854.5L341.7,851.4L344.5,848.5L347.5,845.9L350.7,843.5L354.0,841.4L357.5,839.6L361.2,838.1L365.0,836.8L368.9,835.9L372.9,835.2L377.1,834.9L381.3,834.8L385.6,835.0L390.0,835.6L394.5,836.4L399.0,837.5L403.6,838.9L408.1,840.6L412.7,842.5L417.3,844.8L421.8,847.3L426.4,850.1L430.9,853.1L435.3,856.4L439.7,859.9L444.0,863.6L448.2,867.5L452.4,871.7L456.4,876.1L460.3,880.6L464.0,885.3L467.6,890.2L471.1,895.2L474.4,900.3L477.5,905.6L480.5,910.9L483.3,916.4L485.8,921.9L488.2,927.4L490.4,933.1L492.3,938.7L494.0,944.4L495.5,950.0L496.8,955.6L497.9,961.2L498.7,966.8L499.2,972.3L499.6,977.6L499.7,982.9L499.5,988.1L499.1,993.2L498.5,998.1L497.6,1002.9L496.5,1007.5L495.2,1012.0L493.6,1016.2L491.9,1020.2L489.9,1024.1L487.7,1027.7L485.2,1031.1L482.6,1034.2L479.8,1037.1L476.8,1039.7L473.6,1042.1L470.3,1044.2L466.8,1046.0L463.1,1047.5L459.3,1048.7L455.4,1049.7L451.4,1050.3L447.2,1050.7L443.0,1050.8L438.7,1050.5L434.3,1050.0L429.8,1049.2L425.3,1048.1L420.8,1046.7L416.2,1045.0L411.6,1043.0L407.0,1040.8L402.5,1038.3L397.9,1035.5L393.4,1032.5L389.0,1029.2L384.6,1025.7L380.3,1022.0L376.1,1018.0L371.9,1013.9L367.9,1009.5L364.0,1005.0L360.3,1000.3L356.7,995.4L353.2,990.4L349.9,985.3L346.8,980.0L343.8,974.6L341.0,969.2L338.5,963.7Z" fill="rgba(178,178,178,0.19)"/></g>
<g clip-path="url(#c32)"><circle class="p0" cx="554.9" cy="1001.0" r="3.3"/><circle class="p0" cx="558.2" cy="1006.9" r="3.3"/><circle class="p0" cx="561.6" cy="1001.0" r="3.3"/><circle class="p0" cx="561.6" cy="1001.0" r="3.3"/><circle class="p0" cx="564.9" cy="1001.0" r="3.3"/><circle class="p0" cx="564.9" cy="1001.0" r="3.3"/><circle class="p0" cx="564.9" cy="1001.0" r="3.3"/><circle class="p0" cx="564.9" cy="1001.0" r="3.3"/><circle class="p0" cx="564.9" cy="995.2" r="3.3"/><circle class="p0" cx="564.9" cy="995.2" r="3.3"/><circle class="p0" cx="564.9" cy="989.4" r="3.3"/><circle class="p0" cx="568.2" cy="1006.9" r="3.3"/><circle class="p0" cx="568.2" cy="1006.9" r="3.3"/><circle class="p0" cx="568.2" cy="1001.0" r="3.3"/><circle class="p0" cx="568.2" cy="1001.0" r="3.3"/><circle class="p0" cx="568.2" cy="1001.0" r="3.3"/><circle class="p0" cx="568.2" cy="1001.0" r="3.3"/><circle class="p0" cx="568.2" cy="1001.0" r="3.3"/><circle class="p0" cx="568.2" cy="1001.0" r="3.3"/><circle class="p0" cx="568.2" cy="1001.0" r="3.3"/><circle class="p0" cx="568.2" cy="1001.0" r="3.3"/><circle class="p0" cx="568.2" cy="995.2" r="3.3"/><circle class="p0" cx="568.2" cy="995.2" r="3.3"/><circle class="p0" cx="568.2" cy="995.2" r="3.3"/><circle class="p0" cx="571.6" cy="1006.9" r="3.3"/><circle class="p0" cx="571.6" cy="1006.9" r="3.3"/><circle class="p0" cx="571.6" cy="1001.0" r="3.3"/><circle class="p0" cx="571.6" cy="1001.0" r="3.3"/><circle class="p0" cx="571.6" cy="1001.0" r="3.3"/><circle class="p0" cx="571.6" cy="1001.0" r="3.3"/><circle class="p0" cx="571.6" cy="1001.0" r="3.3"/><circle class="p0" cx="571.6" cy="1001.0" r="3.3"/><circle class="p0" cx="571.6" cy="1001.0" r="3.3"/><circle class="p0" cx="571.6" cy="995.2" r="3.3"/><circle class="p0" cx="571.6" cy="989.4" r="3.3"/><circle class="p0" cx="571.6" cy="989.4" r="3.3"/><circle class="p0" cx="571.6" cy="989.4" r="3.3"/><circle class="p0" cx="574.9" cy="1001.0" r="3.3"/><circle class="p0" cx="574.9" cy="1001.0" r="3.3"/><circle class="p0" cx="574.9" cy="1001.0" r="3.3"/><circle class="p0" cx="574.9" cy="1001.0" r="3.3"/><circle class="p0" cx="574.9" cy="1001.0" r="3.3"/><circle class="p0" cx="574.9" cy="989.4" r="3.3"/><circle class="p0" cx="574.9" cy="977.7" r="3.3"/><circle class="p0" cx="578.3" cy="1001.0" r="3.3"/><circle class="p0" cx="578.3" cy="995.2" r="3.3"/><circle class="p0" cx="578.3" cy="989.4" r="3.3"/><circle class="p0" cx="578.3" cy="983.5" r="3.3"/><circle class="p0" cx="585.0" cy="1001.0" r="3.3"/><circle class="p0" cx="585.0" cy="989.4" r="3.3"/><circle class="p1" cx="621.7" cy="948.6" r="3.3"/><circle class="p1" cx="631.8" cy="954.4" r="3.3"/><circle class="p1" cx="631.8" cy="954.4" r="3.3"/><circle class="p1" cx="638.5" cy="954.4" r="3.3"/><circle class="p1" cx="638.5" cy="954.4" r="3.3"/><circle class="p1" cx="641.8" cy="936.9" r="3.3"/><circle class="p1" cx="645.1" cy="954.4" r="3.3"/><circle class="p1" cx="648.5" cy="948.6" r="3.3"/><circle class="p1" cx="651.8" cy="948.6" r="3.3"/><circle class="p1" cx="651.8" cy="942.7" r="3.3"/><circle class="p1" cx="651.8" cy="931.1" r="3.3"/><circle class="p1" cx="655.2" cy="954.4" r="3.3"/><circle class="p1" cx="655.2" cy="942.7" r="3.3"/><circle class="p1" cx="655.2" cy="936.9" r="3.3"/><circle class="p1" cx="655.2" cy="936.9" r="3.3"/><circle class="p1" cx="655.2" cy="936.9" r="3.3"/><circle class="p1" cx="658.5" cy="954.4" r="3.3"/><circle class="p1" cx="658.5" cy="936.9" r="3.3"/><circle class="p1" cx="658.5" cy="936.9" r="3.3"/><circle class="p1" cx="661.9" cy="942.7" r="3.3"/><circle class="p1" cx="661.9" cy="936.9" r="3.3"/><circle class="p1" cx="661.9" cy="936.9" r="3.3"/><circle class="p1" cx="661.9" cy="925.3" r="3.3"/><circle class="p1" cx="665.2" cy="936.9" r="3.3"/><circle class="p1" cx="665.2" cy="936.9" r="3.3"/><circle class="p1" cx="668.6" cy="942.7" r="3.3"/><circle class="p1" cx="668.6" cy="936.9" r="3.3"/><circle class="p1" cx="668.6" cy="931.1" r="3.3"/><circle class="p1" cx="668.6" cy="931.1" r="3.3"/><circle class="p1" cx="671.9" cy="936.9" r="3.3"/><circle class="p1" cx="671.9" cy="925.3" r="3.3"/><circle class="p1" cx="671.9" cy="925.3" r="3.3"/><circle class="p1" cx="671.9" cy="925.3" r="3.3"/><circle class="p1" cx="671.9" cy="925.3" r="3.3"/><circle class="p1" cx="671.9" cy="925.3" r="3.3"/><circle class="p1" cx="671.9" cy="919.4" r="3.3"/><circle class="p2" cx="671.9" cy="913.6" r="3.3"/><circle class="p1" cx="675.2" cy="936.9" r="3.3"/><circle class="p1" cx="675.2" cy="931.1" r="3.3"/><circle class="p1" cx="675.2" cy="925.3" r="3.3"/><circle class="p1" cx="678.6" cy="942.7" r="3.3"/><circle class="p1" cx="678.6" cy="931.1" r="3.3"/><circle class="p1" cx="678.6" cy="931.1" r="3.3"/><circle class="p1" cx="678.6" cy="925.3" r="3.3"/><circle class="p1" cx="678.6" cy="919.4" r="3.3"/><circle class="p1" cx="681.9" cy="931.1" r="3.3"/><circle class="p1" cx="681.9" cy="907.8" r="3.3"/><circle class="p2" cx="681.9" cy="907.8" r="3.3"/><circle class="p2" cx="681.9" cy="907.8" r="3.3"/><circle class="p1" cx="685.3" cy="925.3" r="3.3"/><circle class="p1" cx="685.3" cy="925.3" r="3.3"/><circle class="p2" cx="685.3" cy="907.8" r="3.3"/><circle class="p2" cx="685.3" cy="907.8" r="3.3"/><circle class="p2" cx="685.3" cy="896.1" r="3.3"/><circle class="p2" cx="688.6" cy="925.3" r="3.3"/><circle class="p1" cx="688.6" cy="913.6" r="3.3"/><circle class="p2" cx="688.6" cy="901.9" r="3.3"/><circle class="p2" cx="688.6" cy="896.1" r="3.3"/><circle class="p2" cx="692.0" cy="925.3" r="3.3"/><circle class="p1" cx="692.0" cy="919.4" r="3.3"/><circle class="p2" cx="692.0" cy="907.8" r="3.3"/><circle class="p2" cx="692.0" cy="901.9" r="3.3"/><circle class="p2" cx="692.0" cy="901.9" r="3.3"/><circle class="p2" cx="692.0" cy="896.1" r="3.3"/><circle class="p2" cx="692.0" cy="878.6" r="3.3"/><circle class="p2" cx="692.0" cy="872.8" r="3.3"/><circle class="p2" cx="695.3" cy="896.1" r="3.3"/><circle class="p2" cx="695.3" cy="878.6" r="3.3"/><circle class="p2" cx="698.6" cy="901.9" r="3.3"/><circle class="p2" cx="698.6" cy="878.6" r="3.3"/><circle class="p2" cx="702.0" cy="890.3" r="3.3"/><circle class="p2" cx="702.0" cy="878.6" r="3.3"/><circle class="p2" cx="705.3" cy="907.8" r="3.3"/><circle class="p2" cx="705.3" cy="907.8" r="3.3"/><circle class="p2" cx="705.3" cy="890.3" r="3.3"/><circle class="p2" cx="708.7" cy="931.1" r="3.3"/><circle class="p2" cx="708.7" cy="907.8" r="3.3"/><circle class="p2" cx="708.7" cy="890.3" r="3.3"/><circle class="p2" cx="708.7" cy="884.5" r="3.3"/><circle class="p2" cx="708.7" cy="872.8" r="3.3"/><circle class="p2" cx="708.7" cy="872.8" r="3.3"/><circle class="p2" cx="712.0" cy="890.3" r="3.3"/><circle class="p2" cx="712.0" cy="878.6" r="3.3"/><circle class="p2" cx="712.0" cy="867.0" r="3.3"/><circle class="p2" cx="715.4" cy="919.4" r="3.3"/><circle class="p2" cx="715.4" cy="907.8" r="3.3"/><circle class="p2" cx="715.4" cy="884.5" r="3.3"/><circle class="p2" cx="718.7" cy="890.3" r="3.3"/><circle class="p2" cx="718.7" cy="878.6" r="3.3"/><circle class="p2" cx="722.1" cy="907.8" r="3.3"/><circle class="p2" cx="722.1" cy="867.0" r="3.3"/><circle class="p2" cx="725.4" cy="901.9" r="3.3"/><circle class="p2" cx="725.4" cy="878.6" r="3.3"/><circle class="p2" cx="725.4" cy="867.0" r="3.3"/><circle class="p2" cx="732.1" cy="907.8" r="3.3"/><circle class="p2" cx="735.4" cy="896.1" r="3.3"/><circle class="p2" cx="742.1" cy="890.3" r="3.3"/><circle class="p2" cx="745.5" cy="896.1" r="3.3"/><circle class="p2" cx="745.5" cy="884.5" r="3.3"/><circle class="p2" cx="752.1" cy="878.6" r="3.3"/><path d="M653.1,967.6L645.6,973.0L638.1,978.4L630.6,983.7L623.1,988.9L615.8,993.9L608.5,998.8L601.3,1003.6L594.3,1008.2L587.3,1012.6L580.6,1016.8L574.0,1020.8L567.7,1024.6L561.5,1028.2L555.6,1031.5L550.0,1034.6L544.6,1037.5L539.5,1040.1L534.6,1042.4L530.1,1044.4L525.9,1046.2L522.1,1047.7L518.6,1048.9L515.4,1049.8L512.6,1050.4L510.2,1050.7L508.1,1050.7L506.4,1050.5L505.2,1049.9L504.3,1049.0L503.7,1047.9L503.6,1046.4L503.9,1044.7L504.6,1042.7L505.6,1040.4L507.1,1037.9L508.9,1035.1L511.1,1032.0L513.7,1028.7L516.6,1025.2L520.0,1021.4L523.6,1017.4L527.6,1013.2L531.9,1008.9L536.6,1004.3L541.5,999.6L546.7,994.7L552.2,989.7L558.0,984.5L564.0,979.2L570.2,973.9L576.7,968.4L583.3,962.9L590.1,957.3L597.1,951.7L604.2,946.0L611.4,940.4L618.8,934.7L626.2,929.1L633.6,923.5L641.1,918.0L648.6,912.5L656.1,907.1L663.6,901.9L671.0,896.7L678.4,891.6L685.7,886.7L692.9,882.0L699.9,877.4L706.8,873.0L713.6,868.8L720.1,864.7L726.5,860.9L732.7,857.4L738.6,854.0L744.2,850.9L749.6,848.1L754.7,845.5L759.5,843.2L764.1,841.1L768.2,839.4L772.1,837.9L775.6,836.7L778.8,835.8L781.6,835.2L784.0,834.8L786.1,834.8L787.7,835.1L789.0,835.7L789.9,836.5L790.4,837.7L790.6,839.1L790.3,840.8L789.6,842.9L788.5,845.1L787.1,847.7L785.3,850.5L783.1,853.5L780.5,856.9L777.5,860.4L774.2,864.2L770.6,868.1L766.6,872.3L762.3,876.7L757.6,881.3L752.7,886.0L747.5,890.9L742.0,895.9L736.2,901.1L730.2,906.3L723.9,911.7L717.5,917.2L710.9,922.7L704.0,928.3L697.1,933.9L690.0,939.5L682.7,945.2L675.4,950.8L668.0,956.5L660.6,962.0Z" fill="rgba(178,178,178,0.19)"/></g>
<g stroke="#9c9c9c" stroke-width="1" fill="none"><path d="M80.5,370.0V1019.0"/><path d="M310.0,370.0V1019.0" stroke-width="1.6"/><path d="M539.5,370.0V1019.0"/><path d="M769.0,370.0V1019.0" stroke-width="1.6"/><path d="M998.5,370.0V1019.0"/><path d="M80.0,370.5H999.0"/><path d="M80.0,532.5H999.0"/><path d="M80.0,694.5H999.0"/><path d="M80.0,856.5H999.0"/><path d="M80.0,1018.5H999.0"/></g>
<g stroke="#a6a6a6" stroke-width="1.2" fill="none"><path d="M80.50,1018.5v8.5"/><path d="M135.07,1018.5v8.5"/><path d="M189.65,1018.5v8.5"/><path d="M244.23,1018.5v8.5"/><path d="M298.80,1018.5v8.5"/><path d="M107.79,1018.5v4.8"/><path d="M162.36,1018.5v4.8"/><path d="M216.94,1018.5v4.8"/><path d="M271.51,1018.5v4.8"/><path d="M325.90,1018.5v8.5"/><path d="M366.96,1018.5v8.5"/><path d="M408.02,1018.5v8.5"/><path d="M449.08,1018.5v8.5"/><path d="M490.14,1018.5v8.5"/><path d="M531.20,1018.5v8.5"/><path d="M555.30,1018.5v8.5"/><path d="M588.83,1018.5v8.5"/><path d="M622.37,1018.5v8.5"/><path d="M655.90,1018.5v8.5"/><path d="M689.43,1018.5v8.5"/><path d="M722.97,1018.5v8.5"/><path d="M756.50,1018.5v8.5"/><path d="M776.90,1018.5v8.5"/><path d="M817.92,1018.5v8.5"/><path d="M858.94,1018.5v8.5"/><path d="M899.96,1018.5v8.5"/><path d="M940.98,1018.5v8.5"/><path d="M982.00,1018.5v8.5"/><path d="M80.5,532.40h-8.5"/><path d="M80.5,493.65h-8.5"/><path d="M80.5,454.90h-8.5"/><path d="M80.5,416.15h-8.5"/><path d="M80.5,377.40h-8.5"/><path d="M80.5,513.02h-4.8"/><path d="M80.5,474.27h-4.8"/><path d="M80.5,435.52h-4.8"/><path d="M80.5,396.77h-4.8"/><path d="M80.5,683.50h-8.5"/><path d="M80.5,654.36h-8.5"/><path d="M80.5,625.22h-8.5"/><path d="M80.5,596.08h-8.5"/><path d="M80.5,566.94h-8.5"/><path d="M80.5,537.80h-8.5"/><path d="M80.5,845.20h-8.5"/><path d="M80.5,821.63h-8.5"/><path d="M80.5,798.07h-8.5"/><path d="M80.5,774.50h-8.5"/><path d="M80.5,750.93h-8.5"/><path d="M80.5,727.37h-8.5"/><path d="M80.5,703.80h-8.5"/><path d="M80.5,1012.80h-8.5"/><path d="M80.5,983.64h-8.5"/><path d="M80.5,954.48h-8.5"/><path d="M80.5,925.32h-8.5"/><path d="M80.5,896.16h-8.5"/><path d="M80.5,867.00h-8.5"/></g>
<g fill="#262626"><text x="78.8" y="1044.8" text-anchor="middle">4</text><text x="134.1" y="1044.8" text-anchor="middle">5</text><text x="188.7" y="1044.8" text-anchor="middle">6</text><text x="243.3" y="1044.8" text-anchor="middle">7</text><text x="296.0" y="1044.8" text-anchor="middle">8</text><text x="324.9" y="1044.8" text-anchor="middle" textLength="20.3" lengthAdjust="spacing">2.0</text><text x="366.0" y="1044.8" text-anchor="middle" textLength="20.3" lengthAdjust="spacing">2.5</text><text x="407.0" y="1044.8" text-anchor="middle" textLength="20.3" lengthAdjust="spacing">3.0</text><text x="448.1" y="1044.8" text-anchor="middle" textLength="20.3" lengthAdjust="spacing">3.5</text><text x="488.8" y="1044.8" text-anchor="middle" textLength="20.3" lengthAdjust="spacing">4.0</text><text x="518.2" y="1044.8" text-anchor="middle" textLength="20.3" lengthAdjust="spacing">4.5</text><text x="554.3" y="1044.8" text-anchor="middle">1</text><text x="587.8" y="1044.8" text-anchor="middle">2</text><text x="621.4" y="1044.8" text-anchor="middle">3</text><text x="654.9" y="1044.8" text-anchor="middle">4</text><text x="688.4" y="1044.8" text-anchor="middle">5</text><text x="722.0" y="1044.8" text-anchor="middle">6</text><text x="754.2" y="1044.8" text-anchor="middle">7</text><text x="775.9" y="1044.8" text-anchor="middle">0</text><text x="816.9" y="1044.8" text-anchor="middle" textLength="20.3" lengthAdjust="spacing">0.5</text><text x="857.9" y="1044.8" text-anchor="middle" textLength="20.3" lengthAdjust="spacing">1.0</text><text x="899.0" y="1044.8" text-anchor="middle" textLength="20.3" lengthAdjust="spacing">1.5</text><text x="940.0" y="1044.8" text-anchor="middle" textLength="20.3" lengthAdjust="spacing">2.0</text><text x="981.0" y="1044.8" text-anchor="middle" textLength="20.3" lengthAdjust="spacing">2.5</text><text x="68.2" y="538.2" text-anchor="end">4</text><text x="68.2" y="499.4" text-anchor="end">5</text><text x="68.2" y="460.7" text-anchor="end">6</text><text x="68.2" y="421.9" text-anchor="end">7</text><text x="68.2" y="381.6" text-anchor="end">8</text><text x="46.2" y="689.3" textLength="20.3" lengthAdjust="spacing">2.0</text><text x="46.2" y="660.2" textLength="20.3" lengthAdjust="spacing">2.5</text><text x="46.2" y="631.0" textLength="20.3" lengthAdjust="spacing">3.0</text><text x="46.2" y="601.9" textLength="20.3" lengthAdjust="spacing">3.5</text><text x="46.2" y="572.7" textLength="20.3" lengthAdjust="spacing">4.0</text><text x="68.2" y="851.0" text-anchor="end">1</text><text x="68.2" y="827.4" text-anchor="end">2</text><text x="68.2" y="803.9" text-anchor="end">3</text><text x="68.2" y="780.3" text-anchor="end">4</text><text x="68.2" y="756.7" text-anchor="end">5</text><text x="68.2" y="733.2" text-anchor="end">6</text><text x="68.2" y="715.3" text-anchor="end">7</text><text x="68.2" y="1019.5" text-anchor="end">0</text><text x="46.2" y="989.4" textLength="20.3" lengthAdjust="spacing">0.5</text><text x="46.2" y="960.3" textLength="20.3" lengthAdjust="spacing">1.0</text><text x="46.2" y="931.1" textLength="20.3" lengthAdjust="spacing">1.5</text><text x="46.2" y="902.0" textLength="20.3" lengthAdjust="spacing">2.0</text><text x="46.2" y="877.0" textLength="20.3" lengthAdjust="spacing">2.5</text><text x="194.6" y="450.4" text-anchor="middle">Sepal length</text><text x="424.1" y="612.4" text-anchor="middle">Sepal width</text><text x="653.5" y="774.4" text-anchor="middle">Petal length</text><text x="883.0" y="936.4" text-anchor="middle">Petal width</text></g>
</svg>
<svg width="1080" height="1092" viewBox="0 0 1080 1092" style="position:absolute;left:0;top:0" font-family='"Liberation Sans", sans-serif'>
<g stroke="#111" stroke-width="1.1" fill="none"><path d="M918,20.8h13.4"/><rect x="979.2" y="14.1" width="12.6" height="12.6" rx="0.8"/><path d="M1041,13.8l12.8,12.8M1053.8,13.8l-12.8,12.8"/></g>
<path d="M16.2,122.8V132.2H6.8Z" fill="#bababa" stroke="#2c2c2c" stroke-width="1.1" stroke-linejoin="miter"/>
<path d="M35.2,159.5V168.9H25.8Z" fill="#bababa" stroke="#2c2c2c" stroke-width="1.1" stroke-linejoin="miter"/>
<path d="M35.2,345.7V355.1H25.8Z" fill="#bababa" stroke="#2c2c2c" stroke-width="1.1" stroke-linejoin="miter"/>
<rect x="25.0" y="120.6" width="17.2" height="15.0" rx="3" fill="#efefef" stroke="#bebebe" stroke-width="1.2"/><path d="M27.900000000000002,125.6h11.4l-5.7,5.4Z" fill="#cc0a0a"/>
<rect x="44.0" y="343.0" width="17.2" height="15.4" rx="3" fill="#efefef" stroke="#bebebe" stroke-width="1.2"/><path d="M46.9,348.2h11.4l-5.7,5.4Z" fill="#cc0a0a"/>
<rect x="9.6" y="71.6" width="2.2" height="2.2" fill="#1c1c28"/><rect x="9.6" y="77.2" width="2.2" height="2.2" fill="#1c1c28"/><rect x="9.6" y="82.8" width="2.2" height="2.2" fill="#1c1c28"/><rect x="9.6" y="88.4" width="2.2" height="2.2" fill="#1c1c28"/>
<rect x="389.2" y="71.6" width="2.2" height="2.2" fill="#1c1c28"/><rect x="389.2" y="77.2" width="2.2" height="2.2" fill="#1c1c28"/><rect x="389.2" y="82.8" width="2.2" height="2.2" fill="#1c1c28"/><rect x="389.2" y="88.4" width="2.2" height="2.2" fill="#1c1c28"/>
<rect x="510.4" y="71.6" width="2.2" height="2.2" fill="#1c1c28"/><rect x="510.4" y="77.2" width="2.2" height="2.2" fill="#1c1c28"/><rect x="510.4" y="82.8" width="2.2" height="2.2" fill="#1c1c28"/><rect x="510.4" y="88.4" width="2.2" height="2.2" fill="#1c1c28"/>
<g><rect x="20.2" y="74.2" width="18.6" height="15.6" fill="#fff" stroke="#1b4c9c" stroke-width="1.3"/><path d="M20.2,79.4h18.6M20.2,84.6h18.6" stroke="#e06a6a" stroke-width="0.9"/><path d="M26.4,74.2v15.6M32.6,74.2v15.6" stroke="#1b4c9c" stroke-width="1"/><circle cx="31.4" cy="83.2" r="1.9" fill="#0a0a0a"/><path d="M36.2,80.6l1.1,4.2l3.4,0.9l-3.4,1l-1.3,4.6l-1.2,-4.5l-3.6,-1l3.7,-1Z" fill="#2e74d0"/><g stroke="#f4c400" stroke-width="1.7" stroke-linecap="round"><path d="M23.0,75.8l5.00,0.00"/><path d="M23.0,75.8l3.54,3.54"/><path d="M23.0,75.8l0.00,5.00"/><path d="M23.0,75.8l-3.54,3.54"/><path d="M23.0,75.8l-5.00,0.00"/><path d="M23.0,75.8l-3.54,-3.54"/><path d="M23.0,75.8l-0.00,-5.00"/><path d="M23.0,75.8l3.54,-3.54"/></g><circle cx="23.0" cy="75.8" r="3.1" fill="#f8cf2e"/><circle cx="23.0" cy="75.8" r="1.3" fill="#fff6c0"/></g>
<g><path d="M54.4,74.6h9.6l5.6,5.6v11.4h-15.2Z" fill="#d5e4f7" stroke="#2a66b4" stroke-width="1.2"/><path d="M64,74.6v5.6h5.6" fill="#fff" stroke="#2a66b4" stroke-width="1"/><path d="M57,83.4h9.6" stroke="#5a5a60" stroke-width="2.2"/><ellipse cx="55.2" cy="85.6" rx="2.2" ry="3.4" fill="#e9e9ee" stroke="#77777f" stroke-width="1.1"/><g stroke="#f4c400" stroke-width="1.7" stroke-linecap="round"><path d="M52.6,75.8l5.00,0.00"/><path d="M52.6,75.8l3.54,3.54"/><path d="M52.6,75.8l0.00,5.00"/><path d="M52.6,75.8l-3.54,3.54"/><path d="M52.6,75.8l-5.00,0.00"/><path d="M52.6,75.8l-3.54,-3.54"/><path d="M52.6,75.8l-0.00,-5.00"/><path d="M52.6,75.8l3.54,-3.54"/></g><circle cx="52.6" cy="75.8" r="3.1" fill="#f8cf2e"/><circle cx="52.6" cy="75.8" r="1.3" fill="#fff6c0"/></g>
<g><path d="M83.4,72h6.2a3.2,3.2 0 0 1 3.2,3.2v4.6a2.6,2.6 0 0 1 -2.6,2.6h-6.4a2.6,2.6 0 0 0 -2.6,2.6v2.2h-0.8a2.8,2.8 0 0 1 -2.8,-2.8v-5a2.8,2.8 0 0 1 2.8,-2.8h7v-1h-6.2v-1.2a2.4,2.4 0 0 1 2.2,-2.4Z" fill="#3774a8"/><path d="M94.6,92.4h-6.2a3.2,3.2 0 0 1 -3.2,-3.2v-4.6a2.6,2.6 0 0 1 2.6,-2.6h6.4a2.6,2.6 0 0 0 2.6,-2.6v-2.2h0.8a2.8,2.8 0 0 1 2.8,2.8v5a2.8,2.8 0 0 1 -2.8,2.8h-7v1h6.2v1.2a2.4,2.4 0 0 1 -2.2,2.4Z" fill="#ffd43b"/><circle cx="85.4" cy="74.6" r="0.9" fill="#fff"/><circle cx="92.6" cy="89.8" r="0.9" fill="#fff"/></g>
<g><path d="M110,76.2h6.2l1.6,2h8.8v12.2h-16.6Z" fill="#e9b93e" stroke="#8a6414" stroke-width="1"/><path d="M110.2,90.4l3.6,-8.4h16l-3.4,8.4Z" fill="#f8d775" stroke="#8a6414" stroke-width="1"/><path d="M121.4,75.6c1.6,-2.6 4.6,-3 6.6,-1.2" fill="none" stroke="#2a66b4" stroke-width="1.4"/><path d="M129.6,72.2v4.4h-4.2Z" fill="#2a66b4"/></g>
<g><path d="M139.6,73.6h17.4v17.4h-15.4l-2,-2Z" fill="#4a48c4" stroke="#26247c" stroke-width="1"/><rect x="142.6" y="74.2" width="11.4" height="8.6" fill="#f2f4fc"/><rect x="143.8" y="84.8" width="9.4" height="6.2" fill="#1c1c50"/><rect x="145" y="85.8" width="3.2" height="4.4" fill="#e8e8f4"/></g>
<g stroke="#ccd3ea" stroke-width="1.4" fill="none"><path d="M182.2,73.4l5.6,11.4M189.4,73.4l-5.6,11.4"/><circle cx="182.6" cy="87.6" r="2.5"/><circle cx="189" cy="87.6" r="2.5"/></g>
<g><path d="M204.4,73.8h8l3.6,3.6v9h-11.6Z" fill="#f7f9ff" stroke="#7a98cc" stroke-width="1"/><path d="M206.4,77.6h5M206.4,80h7M206.4,82.4h7" stroke="#3c66b4" stroke-width="1"/><path d="M211.6,78.4h8l4,4v7.8h-12Z" fill="#f7f9ff" stroke="#1f3f9a" stroke-width="1.2"/><path d="M213.6,82.6h5M213.6,85h8M213.6,87.4h8" stroke="#2c57ac" stroke-width="1.1"/></g>
<g><rect x="234.6" y="74" width="15.6" height="15" rx="1.2" fill="#e2a92c" stroke="#7a5410" stroke-width="1.1"/><rect x="239" y="72" width="6.8" height="4.2" rx="1" fill="#d8d8d8" stroke="#5c4a20" stroke-width="0.9"/><path d="M242.8,80.4h8l3.8,3.6v6h-11.8Z" fill="#eef1f8" stroke="#3a3a52" stroke-width="1.1"/><path d="M244.8,84h5M244.8,86.6h8" stroke="#7a86a6" stroke-width="1"/></g>
<g><rect x="270.6" y="72" width="20.6" height="20.6" rx="2.6" fill="#fafafa" stroke="#2e2e2e" stroke-width="1.25"/><path d="M274,78.4h14M274,86.4h14" stroke="#333" stroke-width="1.1"/><rect x="277" y="75.4" width="3.6" height="6" rx="1.5" fill="#fff" stroke="#333" stroke-width="1"/><rect x="282.4" y="83.4" width="3.6" height="6" rx="1.5" fill="#fff" stroke="#222" stroke-width="1.1"/></g>
<g fill="none" stroke="#d3d8ea" stroke-width="1.5"><rect x="303.2" y="80" width="14.4" height="11.4" rx="1.6"/><path d="M306.2,80v-3a4.2,4.2 0 0 1 8.4,0v3"/></g>
<g fill="none" stroke="#161616"><circle cx="344.6" cy="80.2" r="5.6" stroke-width="1.9"/><path d="M348.8,84.6l6.2,6" stroke-width="2.5" stroke-linecap="round"/></g>
<path d="M368.4,88.6h7.6" stroke="#6a6a72" stroke-width="1.2"/><path d="M368.4,90.8h7.6l-3.8,4.6Z" fill="#66666e"/>
<path d="M489.6,88.6h7.6" stroke="#6a6a72" stroke-width="1.2"/><path d="M489.6,90.8h7.6l-3.8,4.6Z" fill="#66666e"/>
<path d="M951.2,88.6h7.6" stroke="#6a6a72" stroke-width="1.2"/><path d="M951.2,90.8h7.6l-3.8,4.6Z" fill="#66666e"/>
<g><path d="M400.6,72.6h13l4,4v14h-17Z" fill="#f6f9ff" stroke="#4f78c8" stroke-width="1.1"/><path d="M400.6,77.2h17M400.6,81.8h17M400.6,86.4h17M409.4,72.6v18M413.6,75v15.6" stroke="#6c8ed0" stroke-width="0.9"/><path d="M405,72.6v18" stroke="#e03030" stroke-width="1.1"/><rect x="402.4" y="75.4" width="10" height="8" fill="#ea6a1c"/><rect x="404.4" y="77" width="6" height="4.8" fill="#ffd93a"/></g>
<g><rect x="429.2" y="78.6" width="6.6" height="13.4" fill="#d6e4f2" stroke="#2c2c2c" stroke-width="1.3"/><rect x="440.2" y="78.6" width="6.6" height="13.4" fill="#d6e4f2" stroke="#2c2c2c" stroke-width="1.3"/><path d="M431.2,82h2.6M431.2,85h2.6M431.2,88h2.6M442.2,82h2.6M442.2,85h2.6M442.2,88h2.6" stroke="#7890a8" stroke-width="1"/><path d="M432.6,74.2c3.4,-1.2 7.400,-1.2 10.800,0" fill="none" stroke="#111" stroke-width="1.2"/><path d="M430.8,76.4l1,-3.4l2.4,2.2ZM445.2,76.4l-1,-3.4l-2.4,2.2Z" fill="#111"/></g>
<g><rect x="460.4" y="72" width="15.4" height="13.6" fill="#f4f7fd" stroke="#2a4ea0" stroke-width="1.1"/><path d="M460.4,76.6h15.4M460.4,81h15.4M465.6,72v13.6M470.6,72v13.6" stroke="#8aa4d6" stroke-width="0.8"/><path d="M458,73.6l5.6,3.6l-5.6,3.6Z" fill="#2c9a2c"/><path d="M466.6,75l4,4.4l3.4,-3" fill="none" stroke="#d03a3a" stroke-width="1.1"/><path d="M468,78.4l2,2.6l3.4,-1.6" fill="none" stroke="#2e74d0" stroke-width="1.4"/><path d="M472.6,81.4v11.4M466.8,87.2h11.8" stroke="#2b9626" stroke-width="3.4"/></g>
<path d="M525.4,72.8v15.4l3.6,-3.4l2.6,6l2.4,-1.1l-2.6,-5.8l5,-0.2Z" fill="#f2f7ff" stroke="#1c46a8" stroke-width="1.2" stroke-linejoin="round"/>
<text x="561" y="91.2" text-anchor="middle" font-size="23" font-weight="700" fill="#dba04a">?</text><text x="560.2" y="90.6" text-anchor="middle" font-size="23" font-weight="700" fill="#1f50c8" stroke="#1f50c8" stroke-width="0.4">?</text>
<path d="M586.8,74.4h5.2v5.6h5.6v5.2h-5.6v5.6h-5.2v-5.6h-5.6v-5.2h5.6Z" fill="#dfe9fb" stroke="#1f44b0" stroke-width="1.4"/><rect x="588.2" y="81.4" width="2.4" height="2.4" fill="#1f44b0"/>
<g fill="none" stroke="#2348b4"><circle cx="619" cy="82.2" r="8" stroke-width="1.5"/><circle cx="619" cy="82.2" r="4.6" stroke-width="1.7"/><path d="M619,73.4v4M619,87v4M610.2,82.2h4M623.8,82.2h4" stroke-width="1.4"/></g><circle cx="619" cy="82.2" r="1.7" fill="#2348b4"/>
<path d="M650.6,84.4l-3.4,-4.2c-0.8,-1.2 0.8,-2.4 1.8,-1.4l2.6,2.6v-6.6c0,-1.6 2.2,-1.6 2.2,0v-1.600c0,-1.600 2.400,-1.600 2.400,0v0.6c0,-1.600 2.400,-1.600 2.400,0v1.400c0,-1.500 2.300,-1.500 2.300,0v2.4c0.200,-1.300 2.100,-1.200 2.100,0.200v6.200c0,3 -1.400,5 -2.600,7h-8.600c-1.200,-2.200 -2.200,-4.400 -3.200,-6.600Z" fill="#fdfdff" stroke="#2a3f8c" stroke-width="1.1" stroke-linejoin="round"/><path d="M653.8,75v6.400M656.200,73.800v7.400M658.600,75v6.400M661,77v5.200" stroke="#2a3f8c" stroke-width="0.9" fill="none"/>
<g><path d="M688.2,80.200l5.200,-5.800l2.300,2l-5.200,5.900Z" fill="#c98d2e" stroke="#6c4a14" stroke-width="0.800"/><ellipse cx="684" cy="84.400" rx="6.600" ry="4.500" transform="rotate(-28 684 84.400)" fill="#2f7be0" stroke="#174a9c" stroke-width="0.900"/><path d="M679.400,84.200c1.200,-2.200 3.600,-3.600 6.200,-3.800" fill="none" stroke="#8fc0ff" stroke-width="1.200"/></g>
<g fill="none" stroke="#1e3fa6" stroke-width="1.5"><ellipse cx="718" cy="79.4" rx="6.6" ry="4.6" transform="rotate(-18 718 79.4)"/><path d="M712.600,82.600c-1.600,0.800 -2,2.600 -0.600,3.400c1.200,0.600 2.200,-0.400 1.400,-1.400c-1,-1 -3,0.600 -5.400,5.600"/></g>
<g><path d="M746.600,84.400l7.600,6.400" stroke="#b07820" stroke-width="3" stroke-linecap="round"/><circle cx="742.600" cy="79" r="5.900" fill="#f4f8ff" stroke="#2348b4" stroke-width="1.5"/><path d="M739.600,79h6M742.600,76v6" stroke="#1a2f86" stroke-width="1.2"/></g>
<path d="M775,74.400v16M766.800,82.400h16.400" stroke="#1331a4" stroke-width="2.2"/>
<path d="M796.200,88.800l14.400,-15.200l2.800,2.600l-14.400,15.200Z" fill="#f2f5ff" stroke="#2846aa" stroke-width="1.2" stroke-linejoin="round"/>
<g><rect x="830.600" y="73.400" width="19" height="16.400" fill="#f4f7ff" stroke="#2452b8" stroke-width="1.2"/><path d="M832,83h16.400M832,85.400h16.400M832,87.800h16.400" stroke="#c2cde8" stroke-width="0.9"/><text x="838.400" y="83.400" text-anchor="middle" font-family="'Liberation Serif',serif" font-size="12.500" font-weight="700" fill="#10107a">T</text></g>
<g stroke="#12127c"><path d="M861.800,76.400h18.600" stroke-width="3.400"/><path d="M861.800,82h18.600" stroke-width="1.600"/><path d="M861.800,86.800h16" stroke-width="1.600"/></g><path d="M877.200,83.600l4.800,3.200l-4.800,3.200Z" fill="#12127c"/>
<path d="M896.800,73.400h7l1.600,6.400l4.400,3.800l-4.600,6h-13.200v-9Z" fill="#eef3fd" stroke="#2446b0" stroke-width="1.300" stroke-linejoin="round"/>
<ellipse cx="931" cy="82.200" rx="9.600" ry="6.200" fill="#eef3fd" stroke="#2446b0" stroke-width="1.300"/>
<g><rect x="13.4" y="10.8" width="19.2" height="18.8" fill="#fdfdff"/><rect x="13.4" y="10.8" width="5.6" height="5.4" fill="#dcdcfa"/><rect x="20.2" y="17.3" width="5.6" height="5.5" fill="#dcdcfa"/><rect x="27.2" y="24.2" width="5.5" height="5.4" fill="#dcdcfa"/><g fill="#d83a3a"><circle cx="22.4" cy="12.7" r="0.8"/><circle cx="29" cy="11.4" r="0.8"/><circle cx="15.5" cy="19.5" r="0.8"/><circle cx="29" cy="22.5" r="0.9"/><circle cx="14.2" cy="27.6" r="0.8"/><circle cx="23.5" cy="27.5" r="0.8"/></g><g fill="#3f78d4"><circle cx="23.5" cy="11.3" r="0.8"/><circle cx="23.5" cy="14.3" r="0.8"/><circle cx="31.6" cy="12.7" r="0.8"/><circle cx="29" cy="14.3" r="0.8"/><circle cx="14.2" cy="20.9" r="0.8"/><circle cx="16.8" cy="20.9" r="0.8"/><circle cx="29" cy="19.5" r="0.8"/><circle cx="31.6" cy="20.9" r="0.8"/><circle cx="16.8" cy="26.4" r="0.8"/><circle cx="16.8" cy="28.9" r="0.8"/><circle cx="22.4" cy="26.4" r="0.8"/><circle cx="22.4" cy="29" r="0.8"/></g><path d="M19.5,11v18M26.5,11v18M13.8,16.7h18.4M13.8,23.5h18.4" stroke="#1e3963" stroke-width="1.25" stroke-linecap="round"/></g>
<g fill="none" stroke="#8b8b8b" stroke-width="1.5"><rect x="978.6" y="118.3" width="15.6" height="15.8" rx="2.2"/><path d="M975,124.8v10a2.4,2.4 0 0 0 2.4,2.4h10.6"/></g><path d="M986.3,121.6l1.45,3.2l3.5,0.4l-2.6,2.35l0.75,3.45l-3.1,-1.8l-3.1,1.8l0.75,-3.45l-2.6,-2.35l3.5,-0.4Z" fill="#8b8b8b"/>
<circle cx="930.2" cy="1074.1" r="7.9" fill="#050505"/><text x="930.3" y="1079.4" text-anchor="middle" font-family="'Liberation Serif',serif" font-size="14.5" font-weight="700" fill="#fff">i</text>
<g><path d="M956.6,1074.4h10v7.4h-10Z" fill="#f4f8ff" stroke="#9cc2ee" stroke-width="0.9"/><rect x="960.2" y="1076.2" width="2.9" height="5.6" fill="#b9772a"/><path d="M953.8,1075.4l7.8,-7.4l7.8,7.4" fill="none" stroke="#2b86e2" stroke-width="2.3" stroke-linejoin="miter"/></g>
<g><rect x="976" y="1067.9" width="13.6" height="12.2" fill="#fff" stroke="#2b60b8" stroke-width="1.2"/><path d="M976,1071.4h13.6M976,1075.2h13.6" stroke="#e05858" stroke-width="1"/><path d="M980.4,1067.9v12.2M985,1067.9v12.2" stroke="#6a92d8" stroke-width="0.9"/><circle cx="984.6" cy="1074.6" r="1.4" fill="#111"/><path d="M987.6,1073.6l0.9,3l2.7,0.7l-2.6,0.9l-1,3.4l-0.9,-3.3l-2.9,-0.9l2.9,-0.8Z" fill="#2e74d0"/></g>
<rect x="1007.9" y="1067.3" width="17.4" height="15.8" rx="1.2" fill="#fff" stroke="#6c6c6c" stroke-width="1.2"/>
<path d="M1034.3,1070.6h10.4l-5.2,7.4Z" fill="#0a0a0a"/>
<rect x="1074.4" y="1073.2" width="1.9" height="1.9" fill="#f6f8fd"/><rect x="1074.4" y="1076.4" width="1.9" height="1.9" fill="#f6f8fd"/><rect x="1071.2" y="1076.4" width="1.9" height="1.9" fill="#f6f8fd"/><rect x="1074.4" y="1079.6" width="1.9" height="1.9" fill="#f6f8fd"/><rect x="1071.2" y="1079.6" width="1.9" height="1.9" fill="#f6f8fd"/><rect x="1068.0" y="1079.6" width="1.9" height="1.9" fill="#f6f8fd"/><rect x="1074.4" y="1082.8" width="1.9" height="1.9" fill="#f6f8fd"/><rect x="1071.2" y="1082.8" width="1.9" height="1.9" fill="#f6f8fd"/><rect x="1068.0" y="1082.8" width="1.9" height="1.9" fill="#f6f8fd"/><rect x="1064.8" y="1082.8" width="1.9" height="1.9" fill="#f6f8fd"/><rect x="1074.4" y="1086.0" width="1.9" height="1.9" fill="#f6f8fd"/><rect x="1071.2" y="1086.0" width="1.9" height="1.9" fill="#f6f8fd"/><rect x="1068.0" y="1086.0" width="1.9" height="1.9" fill="#f6f8fd"/><rect x="1064.8" y="1086.0" width="1.9" height="1.9" fill="#f6f8fd"/><rect x="1061.6" y="1086.0" width="1.9" height="1.9" fill="#f6f8fd"/>
</svg>
</body></html>
